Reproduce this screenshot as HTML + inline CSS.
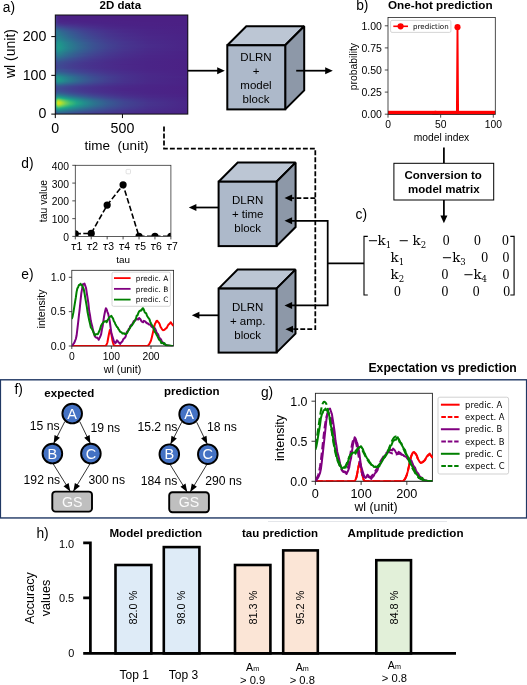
<!DOCTYPE html>
<html lang="en"><head><meta charset="utf-8"><title>DLRN figure</title>
<style>html,body{margin:0;padding:0;background:#fff}svg{display:block}</style></head>
<body>
<svg width="527" height="685" viewBox="0 0 527 685">
<rect width="527" height="685" fill="#fff"/>
<defs>
<linearGradient id="h0" x1="0" x2="1" y1="0" y2="0"><stop offset="0.000" stop-color="#4b1e83"/><stop offset="0.005" stop-color="#453a8f"/><stop offset="0.012" stop-color="#492c8b"/><stop offset="0.022" stop-color="#4a2487"/><stop offset="0.035" stop-color="#4b2185"/><stop offset="0.055" stop-color="#4b2084"/><stop offset="0.080" stop-color="#4b2084"/><stop offset="0.115" stop-color="#4b2084"/><stop offset="0.160" stop-color="#4b2084"/><stop offset="0.215" stop-color="#4b2084"/><stop offset="0.290" stop-color="#4b2084"/><stop offset="0.390" stop-color="#4b2084"/><stop offset="0.520" stop-color="#4b2084"/><stop offset="0.700" stop-color="#4b2084"/><stop offset="1.000" stop-color="#4b2084"/></linearGradient>
<linearGradient id="h1" x1="0" x2="1" y1="0" y2="0"><stop offset="0.000" stop-color="#4b2084"/><stop offset="0.005" stop-color="#443b90"/><stop offset="0.012" stop-color="#492c8a"/><stop offset="0.022" stop-color="#4a2487"/><stop offset="0.035" stop-color="#4b2185"/><stop offset="0.055" stop-color="#4b2084"/><stop offset="0.080" stop-color="#4b2084"/><stop offset="0.115" stop-color="#4b2084"/><stop offset="0.160" stop-color="#4b2084"/><stop offset="0.215" stop-color="#4b2084"/><stop offset="0.290" stop-color="#4b2084"/><stop offset="0.390" stop-color="#4b2084"/><stop offset="0.520" stop-color="#4b2084"/><stop offset="0.700" stop-color="#4b2084"/><stop offset="1.000" stop-color="#4b2084"/></linearGradient>
<linearGradient id="h2" x1="0" x2="1" y1="0" y2="0"><stop offset="0.000" stop-color="#4b2084"/><stop offset="0.005" stop-color="#443d90"/><stop offset="0.012" stop-color="#482d8b"/><stop offset="0.022" stop-color="#4a2587"/><stop offset="0.035" stop-color="#4b2185"/><stop offset="0.055" stop-color="#4b2185"/><stop offset="0.080" stop-color="#4b2185"/><stop offset="0.115" stop-color="#4b2185"/><stop offset="0.160" stop-color="#4b2185"/><stop offset="0.215" stop-color="#4b2084"/><stop offset="0.290" stop-color="#4b2084"/><stop offset="0.390" stop-color="#4b2084"/><stop offset="0.520" stop-color="#4b2084"/><stop offset="0.700" stop-color="#4b2084"/><stop offset="1.000" stop-color="#4b2084"/></linearGradient>
<linearGradient id="h3" x1="0" x2="1" y1="0" y2="0"><stop offset="0.000" stop-color="#4b2084"/><stop offset="0.005" stop-color="#443c90"/><stop offset="0.012" stop-color="#482d8b"/><stop offset="0.022" stop-color="#4a2587"/><stop offset="0.035" stop-color="#4a2286"/><stop offset="0.055" stop-color="#4b2185"/><stop offset="0.080" stop-color="#4b2185"/><stop offset="0.115" stop-color="#4b2185"/><stop offset="0.160" stop-color="#4b2185"/><stop offset="0.215" stop-color="#4b2185"/><stop offset="0.290" stop-color="#4b2185"/><stop offset="0.390" stop-color="#4b2084"/><stop offset="0.520" stop-color="#4b2084"/><stop offset="0.700" stop-color="#4b2084"/><stop offset="1.000" stop-color="#4b2084"/></linearGradient>
<linearGradient id="h4" x1="0" x2="1" y1="0" y2="0"><stop offset="0.000" stop-color="#4b2185"/><stop offset="0.005" stop-color="#443b90"/><stop offset="0.012" stop-color="#482e8c"/><stop offset="0.022" stop-color="#4a2688"/><stop offset="0.035" stop-color="#4a2487"/><stop offset="0.055" stop-color="#4a2286"/><stop offset="0.080" stop-color="#4a2286"/><stop offset="0.115" stop-color="#4b2185"/><stop offset="0.160" stop-color="#4b2185"/><stop offset="0.215" stop-color="#4b2185"/><stop offset="0.290" stop-color="#4b2185"/><stop offset="0.390" stop-color="#4b2185"/><stop offset="0.520" stop-color="#4b2084"/><stop offset="0.700" stop-color="#4b2084"/><stop offset="1.000" stop-color="#4b2084"/></linearGradient>
<linearGradient id="h5" x1="0" x2="1" y1="0" y2="0"><stop offset="0.000" stop-color="#4b2185"/><stop offset="0.005" stop-color="#453a8f"/><stop offset="0.012" stop-color="#482e8c"/><stop offset="0.022" stop-color="#4a2889"/><stop offset="0.035" stop-color="#4a2587"/><stop offset="0.055" stop-color="#4a2487"/><stop offset="0.080" stop-color="#4a2286"/><stop offset="0.115" stop-color="#4a2286"/><stop offset="0.160" stop-color="#4a2286"/><stop offset="0.215" stop-color="#4b2185"/><stop offset="0.290" stop-color="#4b2185"/><stop offset="0.390" stop-color="#4b2185"/><stop offset="0.520" stop-color="#4b2084"/><stop offset="0.700" stop-color="#4b2084"/><stop offset="1.000" stop-color="#4b2084"/></linearGradient>
<linearGradient id="h6" x1="0" x2="1" y1="0" y2="0"><stop offset="0.000" stop-color="#4a2286"/><stop offset="0.005" stop-color="#453a8f"/><stop offset="0.012" stop-color="#48308c"/><stop offset="0.022" stop-color="#492989"/><stop offset="0.035" stop-color="#4a2688"/><stop offset="0.055" stop-color="#4a2587"/><stop offset="0.080" stop-color="#4a2587"/><stop offset="0.115" stop-color="#4a2487"/><stop offset="0.160" stop-color="#4a2487"/><stop offset="0.215" stop-color="#4a2286"/><stop offset="0.290" stop-color="#4a2286"/><stop offset="0.390" stop-color="#4b2185"/><stop offset="0.520" stop-color="#4b2185"/><stop offset="0.700" stop-color="#4b2084"/><stop offset="1.000" stop-color="#4b2084"/></linearGradient>
<linearGradient id="h7" x1="0" x2="1" y1="0" y2="0"><stop offset="0.000" stop-color="#4a2587"/><stop offset="0.005" stop-color="#453a8f"/><stop offset="0.012" stop-color="#47318c"/><stop offset="0.022" stop-color="#492c8a"/><stop offset="0.035" stop-color="#492989"/><stop offset="0.055" stop-color="#4a2889"/><stop offset="0.080" stop-color="#4a2889"/><stop offset="0.115" stop-color="#4a2688"/><stop offset="0.160" stop-color="#4a2587"/><stop offset="0.215" stop-color="#4a2487"/><stop offset="0.290" stop-color="#4a2286"/><stop offset="0.390" stop-color="#4a2286"/><stop offset="0.520" stop-color="#4b2185"/><stop offset="0.700" stop-color="#4b2185"/><stop offset="1.000" stop-color="#4b2084"/></linearGradient>
<linearGradient id="h8" x1="0" x2="1" y1="0" y2="0"><stop offset="0.000" stop-color="#4a2889"/><stop offset="0.005" stop-color="#443c90"/><stop offset="0.012" stop-color="#46368e"/><stop offset="0.022" stop-color="#47318d"/><stop offset="0.035" stop-color="#482e8c"/><stop offset="0.055" stop-color="#492c8a"/><stop offset="0.080" stop-color="#492a8a"/><stop offset="0.115" stop-color="#492989"/><stop offset="0.160" stop-color="#4a2889"/><stop offset="0.215" stop-color="#4a2688"/><stop offset="0.290" stop-color="#4a2487"/><stop offset="0.390" stop-color="#4a2286"/><stop offset="0.520" stop-color="#4b2185"/><stop offset="0.700" stop-color="#4b2185"/><stop offset="1.000" stop-color="#4b2084"/></linearGradient>
<linearGradient id="h9" x1="0" x2="1" y1="0" y2="0"><stop offset="0.000" stop-color="#492c8b"/><stop offset="0.005" stop-color="#424091"/><stop offset="0.012" stop-color="#443b90"/><stop offset="0.022" stop-color="#45378f"/><stop offset="0.035" stop-color="#46358e"/><stop offset="0.055" stop-color="#47328d"/><stop offset="0.080" stop-color="#48308c"/><stop offset="0.115" stop-color="#482e8c"/><stop offset="0.160" stop-color="#492c8b"/><stop offset="0.215" stop-color="#492989"/><stop offset="0.290" stop-color="#4a2688"/><stop offset="0.390" stop-color="#4a2487"/><stop offset="0.520" stop-color="#4a2286"/><stop offset="0.700" stop-color="#4b2185"/><stop offset="1.000" stop-color="#4b2084"/></linearGradient>
<linearGradient id="h10" x1="0" x2="1" y1="0" y2="0"><stop offset="0.000" stop-color="#47318d"/><stop offset="0.005" stop-color="#404591"/><stop offset="0.012" stop-color="#414391"/><stop offset="0.022" stop-color="#433f90"/><stop offset="0.035" stop-color="#443c90"/><stop offset="0.055" stop-color="#45398f"/><stop offset="0.080" stop-color="#46368e"/><stop offset="0.115" stop-color="#47348e"/><stop offset="0.160" stop-color="#48308c"/><stop offset="0.215" stop-color="#492c8a"/><stop offset="0.290" stop-color="#492989"/><stop offset="0.390" stop-color="#4a2587"/><stop offset="0.520" stop-color="#4a2286"/><stop offset="0.700" stop-color="#4b2185"/><stop offset="1.000" stop-color="#4b2084"/></linearGradient>
<linearGradient id="h11" x1="0" x2="1" y1="0" y2="0"><stop offset="0.000" stop-color="#46368e"/><stop offset="0.005" stop-color="#3d4c92"/><stop offset="0.012" stop-color="#3e4b92"/><stop offset="0.022" stop-color="#3f4892"/><stop offset="0.035" stop-color="#414491"/><stop offset="0.055" stop-color="#424191"/><stop offset="0.080" stop-color="#433e90"/><stop offset="0.115" stop-color="#45398f"/><stop offset="0.160" stop-color="#46358e"/><stop offset="0.215" stop-color="#48308c"/><stop offset="0.290" stop-color="#492c8b"/><stop offset="0.390" stop-color="#4a2688"/><stop offset="0.520" stop-color="#4a2487"/><stop offset="0.700" stop-color="#4a2286"/><stop offset="1.000" stop-color="#4b2185"/></linearGradient>
<linearGradient id="h12" x1="0" x2="1" y1="0" y2="0"><stop offset="0.000" stop-color="#443b90"/><stop offset="0.005" stop-color="#3a5392"/><stop offset="0.012" stop-color="#395592"/><stop offset="0.022" stop-color="#3b5192"/><stop offset="0.035" stop-color="#3d4e92"/><stop offset="0.055" stop-color="#3f4992"/><stop offset="0.080" stop-color="#414491"/><stop offset="0.115" stop-color="#433f90"/><stop offset="0.160" stop-color="#453a8f"/><stop offset="0.215" stop-color="#47348d"/><stop offset="0.290" stop-color="#482e8c"/><stop offset="0.390" stop-color="#492989"/><stop offset="0.520" stop-color="#4a2587"/><stop offset="0.700" stop-color="#4a2286"/><stop offset="1.000" stop-color="#4b2185"/></linearGradient>
<linearGradient id="h13" x1="0" x2="1" y1="0" y2="0"><stop offset="0.000" stop-color="#424191"/><stop offset="0.005" stop-color="#365b92"/><stop offset="0.012" stop-color="#355e92"/><stop offset="0.022" stop-color="#375a92"/><stop offset="0.035" stop-color="#395692"/><stop offset="0.055" stop-color="#3b5192"/><stop offset="0.080" stop-color="#3d4c92"/><stop offset="0.115" stop-color="#404591"/><stop offset="0.160" stop-color="#433f90"/><stop offset="0.215" stop-color="#45398f"/><stop offset="0.290" stop-color="#47318d"/><stop offset="0.390" stop-color="#492a8a"/><stop offset="0.520" stop-color="#4a2688"/><stop offset="0.700" stop-color="#4a2286"/><stop offset="1.000" stop-color="#4b2185"/></linearGradient>
<linearGradient id="h14" x1="0" x2="1" y1="0" y2="0"><stop offset="0.000" stop-color="#3f4892"/><stop offset="0.005" stop-color="#336391"/><stop offset="0.012" stop-color="#316691"/><stop offset="0.022" stop-color="#336391"/><stop offset="0.035" stop-color="#355e92"/><stop offset="0.055" stop-color="#375992"/><stop offset="0.080" stop-color="#3a5292"/><stop offset="0.115" stop-color="#3e4b92"/><stop offset="0.160" stop-color="#414491"/><stop offset="0.215" stop-color="#443c90"/><stop offset="0.290" stop-color="#46358e"/><stop offset="0.390" stop-color="#482d8b"/><stop offset="0.520" stop-color="#4a2889"/><stop offset="0.700" stop-color="#4a2487"/><stop offset="1.000" stop-color="#4b2185"/></linearGradient>
<linearGradient id="h15" x1="0" x2="1" y1="0" y2="0"><stop offset="0.000" stop-color="#3d4c92"/><stop offset="0.005" stop-color="#306891"/><stop offset="0.012" stop-color="#2e6e90"/><stop offset="0.022" stop-color="#2f6b90"/><stop offset="0.035" stop-color="#326591"/><stop offset="0.055" stop-color="#346092"/><stop offset="0.080" stop-color="#375992"/><stop offset="0.115" stop-color="#3b5192"/><stop offset="0.160" stop-color="#3f4992"/><stop offset="0.215" stop-color="#424091"/><stop offset="0.290" stop-color="#45378f"/><stop offset="0.390" stop-color="#48308c"/><stop offset="0.520" stop-color="#492989"/><stop offset="0.700" stop-color="#4a2487"/><stop offset="1.000" stop-color="#4b2185"/></linearGradient>
<linearGradient id="h16" x1="0" x2="1" y1="0" y2="0"><stop offset="0.000" stop-color="#3c5092"/><stop offset="0.005" stop-color="#2f6c90"/><stop offset="0.012" stop-color="#2c728f"/><stop offset="0.022" stop-color="#2d7090"/><stop offset="0.035" stop-color="#2f6b90"/><stop offset="0.055" stop-color="#326491"/><stop offset="0.080" stop-color="#355e92"/><stop offset="0.115" stop-color="#395692"/><stop offset="0.160" stop-color="#3d4c92"/><stop offset="0.215" stop-color="#414391"/><stop offset="0.290" stop-color="#453a8f"/><stop offset="0.390" stop-color="#47318d"/><stop offset="0.520" stop-color="#492989"/><stop offset="0.700" stop-color="#4a2587"/><stop offset="1.000" stop-color="#4b2185"/></linearGradient>
<linearGradient id="h17" x1="0" x2="1" y1="0" y2="0"><stop offset="0.000" stop-color="#3a5292"/><stop offset="0.005" stop-color="#2e6d90"/><stop offset="0.012" stop-color="#2b758f"/><stop offset="0.022" stop-color="#2b748f"/><stop offset="0.035" stop-color="#2e6f90"/><stop offset="0.055" stop-color="#306891"/><stop offset="0.080" stop-color="#336291"/><stop offset="0.115" stop-color="#375992"/><stop offset="0.160" stop-color="#3c5092"/><stop offset="0.215" stop-color="#404591"/><stop offset="0.290" stop-color="#443b90"/><stop offset="0.390" stop-color="#47328d"/><stop offset="0.520" stop-color="#492a8a"/><stop offset="0.700" stop-color="#4a2587"/><stop offset="1.000" stop-color="#4b2185"/></linearGradient>
<linearGradient id="h18" x1="0" x2="1" y1="0" y2="0"><stop offset="0.000" stop-color="#395592"/><stop offset="0.005" stop-color="#2f6c90"/><stop offset="0.012" stop-color="#2a778f"/><stop offset="0.022" stop-color="#2b768f"/><stop offset="0.035" stop-color="#2c728f"/><stop offset="0.055" stop-color="#2f6c90"/><stop offset="0.080" stop-color="#326491"/><stop offset="0.115" stop-color="#365b92"/><stop offset="0.160" stop-color="#3a5292"/><stop offset="0.215" stop-color="#3f4892"/><stop offset="0.290" stop-color="#433e90"/><stop offset="0.390" stop-color="#47348d"/><stop offset="0.520" stop-color="#492c8b"/><stop offset="0.700" stop-color="#4a2587"/><stop offset="1.000" stop-color="#4b2185"/></linearGradient>
<linearGradient id="h19" x1="0" x2="1" y1="0" y2="0"><stop offset="0.000" stop-color="#395692"/><stop offset="0.005" stop-color="#306991"/><stop offset="0.012" stop-color="#2a788e"/><stop offset="0.022" stop-color="#2a788e"/><stop offset="0.035" stop-color="#2b758f"/><stop offset="0.055" stop-color="#2e6e90"/><stop offset="0.080" stop-color="#316791"/><stop offset="0.115" stop-color="#355e92"/><stop offset="0.160" stop-color="#395592"/><stop offset="0.215" stop-color="#3e4a92"/><stop offset="0.290" stop-color="#433f90"/><stop offset="0.390" stop-color="#46358e"/><stop offset="0.520" stop-color="#482d8b"/><stop offset="0.700" stop-color="#4a2688"/><stop offset="1.000" stop-color="#4a2286"/></linearGradient>
<linearGradient id="h20" x1="0" x2="1" y1="0" y2="0"><stop offset="0.000" stop-color="#385892"/><stop offset="0.005" stop-color="#316691"/><stop offset="0.012" stop-color="#29798e"/><stop offset="0.022" stop-color="#297b8e"/><stop offset="0.035" stop-color="#2a778e"/><stop offset="0.055" stop-color="#2d718f"/><stop offset="0.080" stop-color="#306a90"/><stop offset="0.115" stop-color="#346191"/><stop offset="0.160" stop-color="#385792"/><stop offset="0.215" stop-color="#3d4c92"/><stop offset="0.290" stop-color="#424191"/><stop offset="0.390" stop-color="#46368e"/><stop offset="0.520" stop-color="#482d8b"/><stop offset="0.700" stop-color="#4a2688"/><stop offset="1.000" stop-color="#4a2286"/></linearGradient>
<linearGradient id="h21" x1="0" x2="1" y1="0" y2="0"><stop offset="0.000" stop-color="#375a92"/><stop offset="0.005" stop-color="#326491"/><stop offset="0.012" stop-color="#297a8e"/><stop offset="0.022" stop-color="#277e8e"/><stop offset="0.035" stop-color="#297b8e"/><stop offset="0.055" stop-color="#2b758f"/><stop offset="0.080" stop-color="#2e6d90"/><stop offset="0.115" stop-color="#326491"/><stop offset="0.160" stop-color="#375992"/><stop offset="0.215" stop-color="#3c4f92"/><stop offset="0.290" stop-color="#414391"/><stop offset="0.390" stop-color="#45378f"/><stop offset="0.520" stop-color="#482e8c"/><stop offset="0.700" stop-color="#4a2889"/><stop offset="1.000" stop-color="#4a2286"/></linearGradient>
<linearGradient id="h22" x1="0" x2="1" y1="0" y2="0"><stop offset="0.000" stop-color="#365c92"/><stop offset="0.005" stop-color="#326491"/><stop offset="0.012" stop-color="#287c8e"/><stop offset="0.022" stop-color="#26818e"/><stop offset="0.035" stop-color="#277e8e"/><stop offset="0.055" stop-color="#2a778e"/><stop offset="0.080" stop-color="#2d7090"/><stop offset="0.115" stop-color="#316691"/><stop offset="0.160" stop-color="#365b92"/><stop offset="0.215" stop-color="#3b5192"/><stop offset="0.290" stop-color="#404591"/><stop offset="0.390" stop-color="#45398f"/><stop offset="0.520" stop-color="#48308c"/><stop offset="0.700" stop-color="#4a2889"/><stop offset="1.000" stop-color="#4a2286"/></linearGradient>
<linearGradient id="h23" x1="0" x2="1" y1="0" y2="0"><stop offset="0.000" stop-color="#355f92"/><stop offset="0.005" stop-color="#326491"/><stop offset="0.012" stop-color="#277e8e"/><stop offset="0.022" stop-color="#25838e"/><stop offset="0.035" stop-color="#26818e"/><stop offset="0.055" stop-color="#297b8e"/><stop offset="0.080" stop-color="#2c738f"/><stop offset="0.115" stop-color="#306991"/><stop offset="0.160" stop-color="#355e92"/><stop offset="0.215" stop-color="#3a5292"/><stop offset="0.290" stop-color="#404691"/><stop offset="0.390" stop-color="#453a8f"/><stop offset="0.520" stop-color="#48308c"/><stop offset="0.700" stop-color="#4a2889"/><stop offset="1.000" stop-color="#4a2286"/></linearGradient>
<linearGradient id="h24" x1="0" x2="1" y1="0" y2="0"><stop offset="0.000" stop-color="#346191"/><stop offset="0.005" stop-color="#326591"/><stop offset="0.012" stop-color="#26818e"/><stop offset="0.022" stop-color="#24878e"/><stop offset="0.035" stop-color="#25848e"/><stop offset="0.055" stop-color="#277e8e"/><stop offset="0.080" stop-color="#2b768f"/><stop offset="0.115" stop-color="#2e6d90"/><stop offset="0.160" stop-color="#346191"/><stop offset="0.215" stop-color="#395692"/><stop offset="0.290" stop-color="#3f4992"/><stop offset="0.390" stop-color="#443c90"/><stop offset="0.520" stop-color="#47318d"/><stop offset="0.700" stop-color="#492989"/><stop offset="1.000" stop-color="#4a2286"/></linearGradient>
<linearGradient id="h25" x1="0" x2="1" y1="0" y2="0"><stop offset="0.000" stop-color="#326491"/><stop offset="0.005" stop-color="#306891"/><stop offset="0.012" stop-color="#25848e"/><stop offset="0.022" stop-color="#228c8d"/><stop offset="0.035" stop-color="#23898e"/><stop offset="0.055" stop-color="#26828e"/><stop offset="0.080" stop-color="#297a8e"/><stop offset="0.115" stop-color="#2d7090"/><stop offset="0.160" stop-color="#326491"/><stop offset="0.215" stop-color="#385892"/><stop offset="0.290" stop-color="#3e4b92"/><stop offset="0.390" stop-color="#433e90"/><stop offset="0.520" stop-color="#47328d"/><stop offset="0.700" stop-color="#492989"/><stop offset="1.000" stop-color="#4a2487"/></linearGradient>
<linearGradient id="h26" x1="0" x2="1" y1="0" y2="0"><stop offset="0.000" stop-color="#316791"/><stop offset="0.005" stop-color="#2f6b90"/><stop offset="0.012" stop-color="#23898e"/><stop offset="0.022" stop-color="#21908d"/><stop offset="0.035" stop-color="#228d8d"/><stop offset="0.055" stop-color="#24868e"/><stop offset="0.080" stop-color="#277e8e"/><stop offset="0.115" stop-color="#2b748f"/><stop offset="0.160" stop-color="#316791"/><stop offset="0.215" stop-color="#375a92"/><stop offset="0.290" stop-color="#3d4c92"/><stop offset="0.390" stop-color="#433f90"/><stop offset="0.520" stop-color="#47348e"/><stop offset="0.700" stop-color="#492a8a"/><stop offset="1.000" stop-color="#4a2487"/></linearGradient>
<linearGradient id="h27" x1="0" x2="1" y1="0" y2="0"><stop offset="0.000" stop-color="#2f6a90"/><stop offset="0.005" stop-color="#2e6e90"/><stop offset="0.012" stop-color="#228d8d"/><stop offset="0.022" stop-color="#1f948c"/><stop offset="0.035" stop-color="#21918c"/><stop offset="0.055" stop-color="#238a8d"/><stop offset="0.080" stop-color="#26828e"/><stop offset="0.115" stop-color="#2a778f"/><stop offset="0.160" stop-color="#2f6a90"/><stop offset="0.215" stop-color="#355e92"/><stop offset="0.290" stop-color="#3c4f92"/><stop offset="0.390" stop-color="#424091"/><stop offset="0.520" stop-color="#46358e"/><stop offset="0.700" stop-color="#492a8a"/><stop offset="1.000" stop-color="#4a2487"/></linearGradient>
<linearGradient id="h28" x1="0" x2="1" y1="0" y2="0"><stop offset="0.000" stop-color="#2f6c90"/><stop offset="0.005" stop-color="#2d7090"/><stop offset="0.012" stop-color="#218f8d"/><stop offset="0.022" stop-color="#1f968b"/><stop offset="0.035" stop-color="#20938c"/><stop offset="0.055" stop-color="#228c8d"/><stop offset="0.080" stop-color="#25838e"/><stop offset="0.115" stop-color="#29798e"/><stop offset="0.160" stop-color="#2f6c90"/><stop offset="0.215" stop-color="#355f92"/><stop offset="0.290" stop-color="#3c5092"/><stop offset="0.390" stop-color="#424191"/><stop offset="0.520" stop-color="#46358e"/><stop offset="0.700" stop-color="#492a8a"/><stop offset="1.000" stop-color="#4a2487"/></linearGradient>
<linearGradient id="h29" x1="0" x2="1" y1="0" y2="0"><stop offset="0.000" stop-color="#2e6e90"/><stop offset="0.005" stop-color="#2d718f"/><stop offset="0.012" stop-color="#21918c"/><stop offset="0.022" stop-color="#1f988b"/><stop offset="0.035" stop-color="#1f958b"/><stop offset="0.055" stop-color="#218e8d"/><stop offset="0.080" stop-color="#25858e"/><stop offset="0.115" stop-color="#297a8e"/><stop offset="0.160" stop-color="#2e6e90"/><stop offset="0.215" stop-color="#346091"/><stop offset="0.290" stop-color="#3b5192"/><stop offset="0.390" stop-color="#414391"/><stop offset="0.520" stop-color="#46358e"/><stop offset="0.700" stop-color="#492c8b"/><stop offset="1.000" stop-color="#4a2487"/></linearGradient>
<linearGradient id="h30" x1="0" x2="1" y1="0" y2="0"><stop offset="0.000" stop-color="#2e6e90"/><stop offset="0.005" stop-color="#2c728f"/><stop offset="0.012" stop-color="#20928c"/><stop offset="0.022" stop-color="#1f998a"/><stop offset="0.035" stop-color="#1f968b"/><stop offset="0.055" stop-color="#218f8d"/><stop offset="0.080" stop-color="#25858e"/><stop offset="0.115" stop-color="#297b8e"/><stop offset="0.160" stop-color="#2e6e90"/><stop offset="0.215" stop-color="#346091"/><stop offset="0.290" stop-color="#3b5192"/><stop offset="0.390" stop-color="#414391"/><stop offset="0.520" stop-color="#46368e"/><stop offset="0.700" stop-color="#492c8b"/><stop offset="1.000" stop-color="#4a2487"/></linearGradient>
<linearGradient id="h31" x1="0" x2="1" y1="0" y2="0"><stop offset="0.000" stop-color="#2e6f90"/><stop offset="0.005" stop-color="#2c728f"/><stop offset="0.012" stop-color="#20928c"/><stop offset="0.022" stop-color="#1f9a8a"/><stop offset="0.035" stop-color="#1f978b"/><stop offset="0.055" stop-color="#21908d"/><stop offset="0.080" stop-color="#24868e"/><stop offset="0.115" stop-color="#297b8e"/><stop offset="0.160" stop-color="#2e6f90"/><stop offset="0.215" stop-color="#346191"/><stop offset="0.290" stop-color="#3b5192"/><stop offset="0.390" stop-color="#414391"/><stop offset="0.520" stop-color="#46368e"/><stop offset="0.700" stop-color="#492c8b"/><stop offset="1.000" stop-color="#4a2487"/></linearGradient>
<linearGradient id="h32" x1="0" x2="1" y1="0" y2="0"><stop offset="0.000" stop-color="#2e6f90"/><stop offset="0.005" stop-color="#2c738f"/><stop offset="0.012" stop-color="#20938c"/><stop offset="0.022" stop-color="#1e9b8a"/><stop offset="0.035" stop-color="#1f988b"/><stop offset="0.055" stop-color="#21908d"/><stop offset="0.080" stop-color="#24878e"/><stop offset="0.115" stop-color="#287c8e"/><stop offset="0.160" stop-color="#2e6f90"/><stop offset="0.215" stop-color="#346191"/><stop offset="0.290" stop-color="#3b5192"/><stop offset="0.390" stop-color="#414391"/><stop offset="0.520" stop-color="#46358e"/><stop offset="0.700" stop-color="#492c8b"/><stop offset="1.000" stop-color="#4a2487"/></linearGradient>
<linearGradient id="h33" x1="0" x2="1" y1="0" y2="0"><stop offset="0.000" stop-color="#2e6f90"/><stop offset="0.005" stop-color="#2c728f"/><stop offset="0.012" stop-color="#20928c"/><stop offset="0.022" stop-color="#1f9a8a"/><stop offset="0.035" stop-color="#1f978b"/><stop offset="0.055" stop-color="#21908d"/><stop offset="0.080" stop-color="#24868e"/><stop offset="0.115" stop-color="#297b8e"/><stop offset="0.160" stop-color="#2e6e90"/><stop offset="0.215" stop-color="#346091"/><stop offset="0.290" stop-color="#3b5192"/><stop offset="0.390" stop-color="#424291"/><stop offset="0.520" stop-color="#46358e"/><stop offset="0.700" stop-color="#492a8a"/><stop offset="1.000" stop-color="#4a2487"/></linearGradient>
<linearGradient id="h34" x1="0" x2="1" y1="0" y2="0"><stop offset="0.000" stop-color="#2e6d90"/><stop offset="0.005" stop-color="#2d7090"/><stop offset="0.012" stop-color="#21908d"/><stop offset="0.022" stop-color="#1f978b"/><stop offset="0.035" stop-color="#1f948c"/><stop offset="0.055" stop-color="#228d8d"/><stop offset="0.080" stop-color="#25838e"/><stop offset="0.115" stop-color="#29798e"/><stop offset="0.160" stop-color="#2f6c90"/><stop offset="0.215" stop-color="#355e92"/><stop offset="0.290" stop-color="#3c4f92"/><stop offset="0.390" stop-color="#424091"/><stop offset="0.520" stop-color="#47348d"/><stop offset="0.700" stop-color="#492a8a"/><stop offset="1.000" stop-color="#4a2487"/></linearGradient>
<linearGradient id="h35" x1="0" x2="1" y1="0" y2="0"><stop offset="0.000" stop-color="#306a90"/><stop offset="0.005" stop-color="#2e6e90"/><stop offset="0.012" stop-color="#228c8d"/><stop offset="0.022" stop-color="#20938c"/><stop offset="0.035" stop-color="#21918c"/><stop offset="0.055" stop-color="#23898e"/><stop offset="0.080" stop-color="#26818e"/><stop offset="0.115" stop-color="#2b758f"/><stop offset="0.160" stop-color="#306891"/><stop offset="0.215" stop-color="#365b92"/><stop offset="0.290" stop-color="#3d4e92"/><stop offset="0.390" stop-color="#433f90"/><stop offset="0.520" stop-color="#47348e"/><stop offset="0.700" stop-color="#492a8a"/><stop offset="1.000" stop-color="#4a2487"/></linearGradient>
<linearGradient id="h36" x1="0" x2="1" y1="0" y2="0"><stop offset="0.000" stop-color="#316691"/><stop offset="0.005" stop-color="#2f6a90"/><stop offset="0.012" stop-color="#24878e"/><stop offset="0.022" stop-color="#218f8d"/><stop offset="0.035" stop-color="#228c8d"/><stop offset="0.055" stop-color="#25848e"/><stop offset="0.080" stop-color="#287c8e"/><stop offset="0.115" stop-color="#2c728f"/><stop offset="0.160" stop-color="#326591"/><stop offset="0.215" stop-color="#375992"/><stop offset="0.290" stop-color="#3e4b92"/><stop offset="0.390" stop-color="#433e90"/><stop offset="0.520" stop-color="#47328d"/><stop offset="0.700" stop-color="#492989"/><stop offset="1.000" stop-color="#4a2286"/></linearGradient>
<linearGradient id="h37" x1="0" x2="1" y1="0" y2="0"><stop offset="0.000" stop-color="#336391"/><stop offset="0.005" stop-color="#316691"/><stop offset="0.012" stop-color="#26828e"/><stop offset="0.022" stop-color="#23898e"/><stop offset="0.035" stop-color="#24868e"/><stop offset="0.055" stop-color="#27808e"/><stop offset="0.080" stop-color="#2a778e"/><stop offset="0.115" stop-color="#2e6d90"/><stop offset="0.160" stop-color="#346191"/><stop offset="0.215" stop-color="#395692"/><stop offset="0.290" stop-color="#3f4992"/><stop offset="0.390" stop-color="#443b90"/><stop offset="0.520" stop-color="#47318d"/><stop offset="0.700" stop-color="#492989"/><stop offset="1.000" stop-color="#4a2286"/></linearGradient>
<linearGradient id="h38" x1="0" x2="1" y1="0" y2="0"><stop offset="0.000" stop-color="#346092"/><stop offset="0.005" stop-color="#336391"/><stop offset="0.012" stop-color="#277e8e"/><stop offset="0.022" stop-color="#25838e"/><stop offset="0.035" stop-color="#26828e"/><stop offset="0.055" stop-color="#297b8e"/><stop offset="0.080" stop-color="#2c738f"/><stop offset="0.115" stop-color="#306991"/><stop offset="0.160" stop-color="#355e92"/><stop offset="0.215" stop-color="#3a5292"/><stop offset="0.290" stop-color="#404692"/><stop offset="0.390" stop-color="#453a8f"/><stop offset="0.520" stop-color="#48308c"/><stop offset="0.700" stop-color="#4a2889"/><stop offset="1.000" stop-color="#4a2286"/></linearGradient>
<linearGradient id="h39" x1="0" x2="1" y1="0" y2="0"><stop offset="0.000" stop-color="#365c92"/><stop offset="0.005" stop-color="#355f92"/><stop offset="0.012" stop-color="#29798e"/><stop offset="0.022" stop-color="#277f8e"/><stop offset="0.035" stop-color="#287d8e"/><stop offset="0.055" stop-color="#2a778f"/><stop offset="0.080" stop-color="#2e6f90"/><stop offset="0.115" stop-color="#326591"/><stop offset="0.160" stop-color="#375a92"/><stop offset="0.215" stop-color="#3c5092"/><stop offset="0.290" stop-color="#414491"/><stop offset="0.390" stop-color="#45398f"/><stop offset="0.520" stop-color="#482e8c"/><stop offset="0.700" stop-color="#4a2889"/><stop offset="1.000" stop-color="#4a2286"/></linearGradient>
<linearGradient id="h40" x1="0" x2="1" y1="0" y2="0"><stop offset="0.000" stop-color="#375992"/><stop offset="0.005" stop-color="#365b92"/><stop offset="0.012" stop-color="#2b758f"/><stop offset="0.022" stop-color="#297b8e"/><stop offset="0.035" stop-color="#2a788e"/><stop offset="0.055" stop-color="#2c728f"/><stop offset="0.080" stop-color="#2f6b90"/><stop offset="0.115" stop-color="#336291"/><stop offset="0.160" stop-color="#385892"/><stop offset="0.215" stop-color="#3d4e92"/><stop offset="0.290" stop-color="#424291"/><stop offset="0.390" stop-color="#45378f"/><stop offset="0.520" stop-color="#482e8c"/><stop offset="0.700" stop-color="#4a2688"/><stop offset="1.000" stop-color="#4a2286"/></linearGradient>
<linearGradient id="h41" x1="0" x2="1" y1="0" y2="0"><stop offset="0.000" stop-color="#395692"/><stop offset="0.005" stop-color="#385892"/><stop offset="0.012" stop-color="#2d7090"/><stop offset="0.022" stop-color="#2b758f"/><stop offset="0.035" stop-color="#2c738f"/><stop offset="0.055" stop-color="#2e6d90"/><stop offset="0.080" stop-color="#316691"/><stop offset="0.115" stop-color="#355e92"/><stop offset="0.160" stop-color="#395592"/><stop offset="0.215" stop-color="#3e4a92"/><stop offset="0.290" stop-color="#433f90"/><stop offset="0.390" stop-color="#46358e"/><stop offset="0.520" stop-color="#482d8b"/><stop offset="0.700" stop-color="#4a2688"/><stop offset="1.000" stop-color="#4a2286"/></linearGradient>
<linearGradient id="h42" x1="0" x2="1" y1="0" y2="0"><stop offset="0.000" stop-color="#3b5192"/><stop offset="0.005" stop-color="#3a5392"/><stop offset="0.012" stop-color="#306990"/><stop offset="0.022" stop-color="#2e6f90"/><stop offset="0.035" stop-color="#2e6d90"/><stop offset="0.055" stop-color="#316791"/><stop offset="0.080" stop-color="#346191"/><stop offset="0.115" stop-color="#375992"/><stop offset="0.160" stop-color="#3c5092"/><stop offset="0.215" stop-color="#404691"/><stop offset="0.290" stop-color="#443d90"/><stop offset="0.390" stop-color="#47348d"/><stop offset="0.520" stop-color="#492c8a"/><stop offset="0.700" stop-color="#4a2688"/><stop offset="1.000" stop-color="#4a2286"/></linearGradient>
<linearGradient id="h43" x1="0" x2="1" y1="0" y2="0"><stop offset="0.000" stop-color="#3d4c92"/><stop offset="0.005" stop-color="#3c4f92"/><stop offset="0.012" stop-color="#336391"/><stop offset="0.022" stop-color="#306891"/><stop offset="0.035" stop-color="#316691"/><stop offset="0.055" stop-color="#346191"/><stop offset="0.080" stop-color="#365b92"/><stop offset="0.115" stop-color="#3a5392"/><stop offset="0.160" stop-color="#3e4b92"/><stop offset="0.215" stop-color="#414391"/><stop offset="0.290" stop-color="#453a8f"/><stop offset="0.390" stop-color="#47328d"/><stop offset="0.520" stop-color="#492a8a"/><stop offset="0.700" stop-color="#4a2587"/><stop offset="1.000" stop-color="#4a2286"/></linearGradient>
<linearGradient id="h44" x1="0" x2="1" y1="0" y2="0"><stop offset="0.000" stop-color="#3f4992"/><stop offset="0.005" stop-color="#3e4b92"/><stop offset="0.012" stop-color="#355e92"/><stop offset="0.022" stop-color="#336291"/><stop offset="0.035" stop-color="#346091"/><stop offset="0.055" stop-color="#365b92"/><stop offset="0.080" stop-color="#395692"/><stop offset="0.115" stop-color="#3c4f92"/><stop offset="0.160" stop-color="#3f4892"/><stop offset="0.215" stop-color="#424091"/><stop offset="0.290" stop-color="#45378f"/><stop offset="0.390" stop-color="#48308c"/><stop offset="0.520" stop-color="#492989"/><stop offset="0.700" stop-color="#4a2587"/><stop offset="1.000" stop-color="#4b2185"/></linearGradient>
<linearGradient id="h45" x1="0" x2="1" y1="0" y2="0"><stop offset="0.000" stop-color="#414491"/><stop offset="0.005" stop-color="#404691"/><stop offset="0.012" stop-color="#385892"/><stop offset="0.022" stop-color="#365b92"/><stop offset="0.035" stop-color="#375a92"/><stop offset="0.055" stop-color="#395692"/><stop offset="0.080" stop-color="#3b5192"/><stop offset="0.115" stop-color="#3e4b92"/><stop offset="0.160" stop-color="#414491"/><stop offset="0.215" stop-color="#443d90"/><stop offset="0.290" stop-color="#46358e"/><stop offset="0.390" stop-color="#482e8c"/><stop offset="0.520" stop-color="#492989"/><stop offset="0.700" stop-color="#4a2587"/><stop offset="1.000" stop-color="#4b2185"/></linearGradient>
<linearGradient id="h46" x1="0" x2="1" y1="0" y2="0"><stop offset="0.000" stop-color="#424091"/><stop offset="0.005" stop-color="#414391"/><stop offset="0.012" stop-color="#3b5192"/><stop offset="0.022" stop-color="#395592"/><stop offset="0.035" stop-color="#3a5392"/><stop offset="0.055" stop-color="#3c5092"/><stop offset="0.080" stop-color="#3e4b92"/><stop offset="0.115" stop-color="#404692"/><stop offset="0.160" stop-color="#424091"/><stop offset="0.215" stop-color="#453a8f"/><stop offset="0.290" stop-color="#47348e"/><stop offset="0.390" stop-color="#482d8b"/><stop offset="0.520" stop-color="#4a2889"/><stop offset="0.700" stop-color="#4a2487"/><stop offset="1.000" stop-color="#4b2185"/></linearGradient>
<linearGradient id="h47" x1="0" x2="1" y1="0" y2="0"><stop offset="0.000" stop-color="#443d90"/><stop offset="0.005" stop-color="#433f90"/><stop offset="0.012" stop-color="#3d4e92"/><stop offset="0.022" stop-color="#3c5092"/><stop offset="0.035" stop-color="#3c4f92"/><stop offset="0.055" stop-color="#3e4b92"/><stop offset="0.080" stop-color="#3f4892"/><stop offset="0.115" stop-color="#414391"/><stop offset="0.160" stop-color="#433e90"/><stop offset="0.215" stop-color="#45378f"/><stop offset="0.290" stop-color="#47328d"/><stop offset="0.390" stop-color="#492c8a"/><stop offset="0.520" stop-color="#4a2889"/><stop offset="0.700" stop-color="#4a2487"/><stop offset="1.000" stop-color="#4b2185"/></linearGradient>
<linearGradient id="h48" x1="0" x2="1" y1="0" y2="0"><stop offset="0.000" stop-color="#443b90"/><stop offset="0.005" stop-color="#433e90"/><stop offset="0.012" stop-color="#3e4a92"/><stop offset="0.022" stop-color="#3d4e92"/><stop offset="0.035" stop-color="#3d4c92"/><stop offset="0.055" stop-color="#3e4a92"/><stop offset="0.080" stop-color="#404591"/><stop offset="0.115" stop-color="#424191"/><stop offset="0.160" stop-color="#443b90"/><stop offset="0.215" stop-color="#46368e"/><stop offset="0.290" stop-color="#47318d"/><stop offset="0.390" stop-color="#492c8b"/><stop offset="0.520" stop-color="#4a2889"/><stop offset="0.700" stop-color="#4a2487"/><stop offset="1.000" stop-color="#4b2185"/></linearGradient>
<linearGradient id="h49" x1="0" x2="1" y1="0" y2="0"><stop offset="0.000" stop-color="#453a8f"/><stop offset="0.005" stop-color="#443b90"/><stop offset="0.012" stop-color="#3f4992"/><stop offset="0.022" stop-color="#3e4b92"/><stop offset="0.035" stop-color="#3e4a92"/><stop offset="0.055" stop-color="#3f4892"/><stop offset="0.080" stop-color="#414491"/><stop offset="0.115" stop-color="#433f90"/><stop offset="0.160" stop-color="#443b90"/><stop offset="0.215" stop-color="#46368e"/><stop offset="0.290" stop-color="#47318d"/><stop offset="0.390" stop-color="#492c8b"/><stop offset="0.520" stop-color="#4a2688"/><stop offset="0.700" stop-color="#4a2487"/><stop offset="1.000" stop-color="#4b2185"/></linearGradient>
<linearGradient id="h50" x1="0" x2="1" y1="0" y2="0"><stop offset="0.000" stop-color="#45398f"/><stop offset="0.005" stop-color="#453a8f"/><stop offset="0.012" stop-color="#404691"/><stop offset="0.022" stop-color="#3e4a92"/><stop offset="0.035" stop-color="#3f4992"/><stop offset="0.055" stop-color="#404692"/><stop offset="0.080" stop-color="#414391"/><stop offset="0.115" stop-color="#433f90"/><stop offset="0.160" stop-color="#453a8f"/><stop offset="0.215" stop-color="#46358e"/><stop offset="0.290" stop-color="#48308c"/><stop offset="0.390" stop-color="#492c8b"/><stop offset="0.520" stop-color="#4a2889"/><stop offset="0.700" stop-color="#4a2487"/><stop offset="1.000" stop-color="#4b2185"/></linearGradient>
<linearGradient id="h51" x1="0" x2="1" y1="0" y2="0"><stop offset="0.000" stop-color="#45398f"/><stop offset="0.005" stop-color="#453a8f"/><stop offset="0.012" stop-color="#404692"/><stop offset="0.022" stop-color="#3e4a92"/><stop offset="0.035" stop-color="#3f4992"/><stop offset="0.055" stop-color="#404692"/><stop offset="0.080" stop-color="#414391"/><stop offset="0.115" stop-color="#433f90"/><stop offset="0.160" stop-color="#453a8f"/><stop offset="0.215" stop-color="#46368e"/><stop offset="0.290" stop-color="#47318d"/><stop offset="0.390" stop-color="#492c8b"/><stop offset="0.520" stop-color="#4a2889"/><stop offset="0.700" stop-color="#4a2487"/><stop offset="1.000" stop-color="#4b2185"/></linearGradient>
<linearGradient id="h52" x1="0" x2="1" y1="0" y2="0"><stop offset="0.000" stop-color="#45398f"/><stop offset="0.005" stop-color="#453a8f"/><stop offset="0.012" stop-color="#404691"/><stop offset="0.022" stop-color="#3e4a92"/><stop offset="0.035" stop-color="#3f4992"/><stop offset="0.055" stop-color="#404692"/><stop offset="0.080" stop-color="#414391"/><stop offset="0.115" stop-color="#433f90"/><stop offset="0.160" stop-color="#443b90"/><stop offset="0.215" stop-color="#46368e"/><stop offset="0.290" stop-color="#47318d"/><stop offset="0.390" stop-color="#492c8a"/><stop offset="0.520" stop-color="#4a2889"/><stop offset="0.700" stop-color="#4a2487"/><stop offset="1.000" stop-color="#4b2185"/></linearGradient>
<linearGradient id="h53" x1="0" x2="1" y1="0" y2="0"><stop offset="0.000" stop-color="#453a8f"/><stop offset="0.005" stop-color="#443c90"/><stop offset="0.012" stop-color="#3f4992"/><stop offset="0.022" stop-color="#3d4c92"/><stop offset="0.035" stop-color="#3e4b92"/><stop offset="0.055" stop-color="#3f4992"/><stop offset="0.080" stop-color="#404591"/><stop offset="0.115" stop-color="#424191"/><stop offset="0.160" stop-color="#443c90"/><stop offset="0.215" stop-color="#45378f"/><stop offset="0.290" stop-color="#47328d"/><stop offset="0.390" stop-color="#482d8b"/><stop offset="0.520" stop-color="#4a2889"/><stop offset="0.700" stop-color="#4a2487"/><stop offset="1.000" stop-color="#4b2185"/></linearGradient>
<linearGradient id="h54" x1="0" x2="1" y1="0" y2="0"><stop offset="0.000" stop-color="#433f91"/><stop offset="0.005" stop-color="#424091"/><stop offset="0.012" stop-color="#3c5092"/><stop offset="0.022" stop-color="#3a5392"/><stop offset="0.035" stop-color="#3a5292"/><stop offset="0.055" stop-color="#3c4f92"/><stop offset="0.080" stop-color="#3e4b92"/><stop offset="0.115" stop-color="#404692"/><stop offset="0.160" stop-color="#424091"/><stop offset="0.215" stop-color="#443b90"/><stop offset="0.290" stop-color="#46358e"/><stop offset="0.390" stop-color="#482e8c"/><stop offset="0.520" stop-color="#492989"/><stop offset="0.700" stop-color="#4a2587"/><stop offset="1.000" stop-color="#4b2185"/></linearGradient>
<linearGradient id="h55" x1="0" x2="1" y1="0" y2="0"><stop offset="0.000" stop-color="#424191"/><stop offset="0.005" stop-color="#414391"/><stop offset="0.012" stop-color="#3a5392"/><stop offset="0.022" stop-color="#385792"/><stop offset="0.035" stop-color="#395692"/><stop offset="0.055" stop-color="#3a5292"/><stop offset="0.080" stop-color="#3c4f92"/><stop offset="0.115" stop-color="#3f4992"/><stop offset="0.160" stop-color="#414391"/><stop offset="0.215" stop-color="#433e90"/><stop offset="0.290" stop-color="#46368e"/><stop offset="0.390" stop-color="#48308c"/><stop offset="0.520" stop-color="#492a8a"/><stop offset="0.700" stop-color="#4a2587"/><stop offset="1.000" stop-color="#4a2286"/></linearGradient>
<linearGradient id="h56" x1="0" x2="1" y1="0" y2="0"><stop offset="0.000" stop-color="#424091"/><stop offset="0.005" stop-color="#414391"/><stop offset="0.012" stop-color="#3a5392"/><stop offset="0.022" stop-color="#385792"/><stop offset="0.035" stop-color="#395692"/><stop offset="0.055" stop-color="#3a5292"/><stop offset="0.080" stop-color="#3c4f92"/><stop offset="0.115" stop-color="#3e4a92"/><stop offset="0.160" stop-color="#414491"/><stop offset="0.215" stop-color="#433e90"/><stop offset="0.290" stop-color="#45378f"/><stop offset="0.390" stop-color="#47318d"/><stop offset="0.520" stop-color="#492a8a"/><stop offset="0.700" stop-color="#4a2587"/><stop offset="1.000" stop-color="#4a2286"/></linearGradient>
<linearGradient id="h57" x1="0" x2="1" y1="0" y2="0"><stop offset="0.000" stop-color="#414391"/><stop offset="0.005" stop-color="#404591"/><stop offset="0.012" stop-color="#385792"/><stop offset="0.022" stop-color="#365b92"/><stop offset="0.035" stop-color="#375992"/><stop offset="0.055" stop-color="#395692"/><stop offset="0.080" stop-color="#3a5292"/><stop offset="0.115" stop-color="#3d4c92"/><stop offset="0.160" stop-color="#404692"/><stop offset="0.215" stop-color="#424091"/><stop offset="0.290" stop-color="#45398f"/><stop offset="0.390" stop-color="#47328d"/><stop offset="0.520" stop-color="#492c8b"/><stop offset="0.700" stop-color="#4a2688"/><stop offset="1.000" stop-color="#4a2286"/></linearGradient>
<linearGradient id="h58" x1="0" x2="1" y1="0" y2="0"><stop offset="0.000" stop-color="#3f4992"/><stop offset="0.005" stop-color="#3e4b92"/><stop offset="0.012" stop-color="#355f92"/><stop offset="0.022" stop-color="#336391"/><stop offset="0.035" stop-color="#336291"/><stop offset="0.055" stop-color="#355e92"/><stop offset="0.080" stop-color="#375992"/><stop offset="0.115" stop-color="#3a5292"/><stop offset="0.160" stop-color="#3e4b92"/><stop offset="0.215" stop-color="#414491"/><stop offset="0.290" stop-color="#443c90"/><stop offset="0.390" stop-color="#47348d"/><stop offset="0.520" stop-color="#482d8b"/><stop offset="0.700" stop-color="#4a2688"/><stop offset="1.000" stop-color="#4a2286"/></linearGradient>
<linearGradient id="h59" x1="0" x2="1" y1="0" y2="0"><stop offset="0.000" stop-color="#3c4f92"/><stop offset="0.005" stop-color="#395592"/><stop offset="0.012" stop-color="#306891"/><stop offset="0.022" stop-color="#2e6d90"/><stop offset="0.035" stop-color="#2f6b90"/><stop offset="0.055" stop-color="#316691"/><stop offset="0.080" stop-color="#346192"/><stop offset="0.115" stop-color="#375992"/><stop offset="0.160" stop-color="#3b5192"/><stop offset="0.215" stop-color="#3f4992"/><stop offset="0.290" stop-color="#424091"/><stop offset="0.390" stop-color="#46368e"/><stop offset="0.520" stop-color="#482e8c"/><stop offset="0.700" stop-color="#4a2889"/><stop offset="1.000" stop-color="#4a2286"/></linearGradient>
<linearGradient id="h60" x1="0" x2="1" y1="0" y2="0"><stop offset="0.000" stop-color="#395692"/><stop offset="0.005" stop-color="#336291"/><stop offset="0.012" stop-color="#2b758f"/><stop offset="0.022" stop-color="#2a788e"/><stop offset="0.035" stop-color="#2b758f"/><stop offset="0.055" stop-color="#2d7090"/><stop offset="0.080" stop-color="#306991"/><stop offset="0.115" stop-color="#346191"/><stop offset="0.160" stop-color="#385892"/><stop offset="0.215" stop-color="#3c4f92"/><stop offset="0.290" stop-color="#414491"/><stop offset="0.390" stop-color="#45398f"/><stop offset="0.520" stop-color="#48308c"/><stop offset="0.700" stop-color="#4a2889"/><stop offset="1.000" stop-color="#4a2286"/></linearGradient>
<linearGradient id="h61" x1="0" x2="1" y1="0" y2="0"><stop offset="0.000" stop-color="#365c92"/><stop offset="0.005" stop-color="#2e6f90"/><stop offset="0.012" stop-color="#26818e"/><stop offset="0.022" stop-color="#26828e"/><stop offset="0.035" stop-color="#277f8e"/><stop offset="0.055" stop-color="#29798e"/><stop offset="0.080" stop-color="#2c728f"/><stop offset="0.115" stop-color="#306891"/><stop offset="0.160" stop-color="#355e92"/><stop offset="0.215" stop-color="#3a5392"/><stop offset="0.290" stop-color="#404691"/><stop offset="0.390" stop-color="#443b90"/><stop offset="0.520" stop-color="#47318d"/><stop offset="0.700" stop-color="#492989"/><stop offset="1.000" stop-color="#4a2286"/></linearGradient>
<linearGradient id="h62" x1="0" x2="1" y1="0" y2="0"><stop offset="0.000" stop-color="#326491"/><stop offset="0.005" stop-color="#2a778e"/><stop offset="0.012" stop-color="#228b8d"/><stop offset="0.022" stop-color="#228d8d"/><stop offset="0.035" stop-color="#23898e"/><stop offset="0.055" stop-color="#26828e"/><stop offset="0.080" stop-color="#297a8e"/><stop offset="0.115" stop-color="#2d7090"/><stop offset="0.160" stop-color="#326491"/><stop offset="0.215" stop-color="#385892"/><stop offset="0.290" stop-color="#3e4a92"/><stop offset="0.390" stop-color="#433e90"/><stop offset="0.520" stop-color="#47328d"/><stop offset="0.700" stop-color="#492989"/><stop offset="1.000" stop-color="#4a2487"/></linearGradient>
<linearGradient id="h63" x1="0" x2="1" y1="0" y2="0"><stop offset="0.000" stop-color="#306a90"/><stop offset="0.005" stop-color="#2a788e"/><stop offset="0.012" stop-color="#21918c"/><stop offset="0.022" stop-color="#1f948c"/><stop offset="0.035" stop-color="#21918c"/><stop offset="0.055" stop-color="#23898e"/><stop offset="0.080" stop-color="#27808e"/><stop offset="0.115" stop-color="#2b758f"/><stop offset="0.160" stop-color="#306891"/><stop offset="0.215" stop-color="#365b92"/><stop offset="0.290" stop-color="#3d4c92"/><stop offset="0.390" stop-color="#433f91"/><stop offset="0.520" stop-color="#47328d"/><stop offset="0.700" stop-color="#492989"/><stop offset="1.000" stop-color="#4a2487"/></linearGradient>
<linearGradient id="h64" x1="0" x2="1" y1="0" y2="0"><stop offset="0.000" stop-color="#2e6d90"/><stop offset="0.005" stop-color="#2b768f"/><stop offset="0.012" stop-color="#20928c"/><stop offset="0.022" stop-color="#1f988b"/><stop offset="0.035" stop-color="#1f948c"/><stop offset="0.055" stop-color="#228c8d"/><stop offset="0.080" stop-color="#25838e"/><stop offset="0.115" stop-color="#2a788e"/><stop offset="0.160" stop-color="#2f6a90"/><stop offset="0.215" stop-color="#365c92"/><stop offset="0.290" stop-color="#3d4e92"/><stop offset="0.390" stop-color="#433f90"/><stop offset="0.520" stop-color="#47328d"/><stop offset="0.700" stop-color="#492989"/><stop offset="1.000" stop-color="#4a2286"/></linearGradient>
<linearGradient id="h65" x1="0" x2="1" y1="0" y2="0"><stop offset="0.000" stop-color="#2e6f90"/><stop offset="0.005" stop-color="#2b758f"/><stop offset="0.012" stop-color="#20938c"/><stop offset="0.022" stop-color="#1e9b8a"/><stop offset="0.035" stop-color="#1f978b"/><stop offset="0.055" stop-color="#218f8d"/><stop offset="0.080" stop-color="#25858e"/><stop offset="0.115" stop-color="#29798e"/><stop offset="0.160" stop-color="#2f6c90"/><stop offset="0.215" stop-color="#355e92"/><stop offset="0.290" stop-color="#3d4e92"/><stop offset="0.390" stop-color="#433f90"/><stop offset="0.520" stop-color="#47328d"/><stop offset="0.700" stop-color="#492989"/><stop offset="1.000" stop-color="#4a2286"/></linearGradient>
<linearGradient id="h66" x1="0" x2="1" y1="0" y2="0"><stop offset="0.000" stop-color="#2e6e90"/><stop offset="0.005" stop-color="#2c728f"/><stop offset="0.012" stop-color="#20928c"/><stop offset="0.022" stop-color="#1f998a"/><stop offset="0.035" stop-color="#1f958b"/><stop offset="0.055" stop-color="#218e8d"/><stop offset="0.080" stop-color="#25848e"/><stop offset="0.115" stop-color="#2a788e"/><stop offset="0.160" stop-color="#2f6b90"/><stop offset="0.215" stop-color="#365c92"/><stop offset="0.290" stop-color="#3d4e92"/><stop offset="0.390" stop-color="#433f91"/><stop offset="0.520" stop-color="#47328d"/><stop offset="0.700" stop-color="#492989"/><stop offset="1.000" stop-color="#4a2286"/></linearGradient>
<linearGradient id="h67" x1="0" x2="1" y1="0" y2="0"><stop offset="0.000" stop-color="#2f6b90"/><stop offset="0.005" stop-color="#2e6e90"/><stop offset="0.012" stop-color="#228d8d"/><stop offset="0.022" stop-color="#1f948c"/><stop offset="0.035" stop-color="#21918c"/><stop offset="0.055" stop-color="#23898e"/><stop offset="0.080" stop-color="#27808e"/><stop offset="0.115" stop-color="#2b758f"/><stop offset="0.160" stop-color="#316791"/><stop offset="0.215" stop-color="#375a92"/><stop offset="0.290" stop-color="#3e4b92"/><stop offset="0.390" stop-color="#433e90"/><stop offset="0.520" stop-color="#47318c"/><stop offset="0.700" stop-color="#492989"/><stop offset="1.000" stop-color="#4a2286"/></linearGradient>
<linearGradient id="h68" x1="0" x2="1" y1="0" y2="0"><stop offset="0.000" stop-color="#336391"/><stop offset="0.005" stop-color="#316691"/><stop offset="0.012" stop-color="#26828e"/><stop offset="0.022" stop-color="#23898e"/><stop offset="0.035" stop-color="#24868e"/><stop offset="0.055" stop-color="#27808e"/><stop offset="0.080" stop-color="#2a778e"/><stop offset="0.115" stop-color="#2e6d90"/><stop offset="0.160" stop-color="#346191"/><stop offset="0.215" stop-color="#395592"/><stop offset="0.290" stop-color="#3f4892"/><stop offset="0.390" stop-color="#443b90"/><stop offset="0.520" stop-color="#47318d"/><stop offset="0.700" stop-color="#4a2889"/><stop offset="1.000" stop-color="#4a2286"/></linearGradient>
<linearGradient id="h69" x1="0" x2="1" y1="0" y2="0"><stop offset="0.000" stop-color="#375a92"/><stop offset="0.005" stop-color="#355e92"/><stop offset="0.012" stop-color="#2a778f"/><stop offset="0.022" stop-color="#287d8e"/><stop offset="0.035" stop-color="#297a8e"/><stop offset="0.055" stop-color="#2b748f"/><stop offset="0.080" stop-color="#2e6d90"/><stop offset="0.115" stop-color="#336391"/><stop offset="0.160" stop-color="#375992"/><stop offset="0.215" stop-color="#3c4f92"/><stop offset="0.290" stop-color="#414391"/><stop offset="0.390" stop-color="#45378f"/><stop offset="0.520" stop-color="#482e8c"/><stop offset="0.700" stop-color="#4a2889"/><stop offset="1.000" stop-color="#4a2286"/></linearGradient>
<linearGradient id="h70" x1="0" x2="1" y1="0" y2="0"><stop offset="0.000" stop-color="#3c5092"/><stop offset="0.005" stop-color="#3a5292"/><stop offset="0.012" stop-color="#306891"/><stop offset="0.022" stop-color="#2e6e90"/><stop offset="0.035" stop-color="#2f6c90"/><stop offset="0.055" stop-color="#316691"/><stop offset="0.080" stop-color="#346091"/><stop offset="0.115" stop-color="#375992"/><stop offset="0.160" stop-color="#3c5092"/><stop offset="0.215" stop-color="#3f4892"/><stop offset="0.290" stop-color="#433e90"/><stop offset="0.390" stop-color="#46358e"/><stop offset="0.520" stop-color="#482d8b"/><stop offset="0.700" stop-color="#4a2688"/><stop offset="1.000" stop-color="#4a2286"/></linearGradient>
<linearGradient id="h71" x1="0" x2="1" y1="0" y2="0"><stop offset="0.000" stop-color="#404691"/><stop offset="0.005" stop-color="#3f4992"/><stop offset="0.012" stop-color="#365b92"/><stop offset="0.022" stop-color="#346092"/><stop offset="0.035" stop-color="#355e92"/><stop offset="0.055" stop-color="#375a92"/><stop offset="0.080" stop-color="#395592"/><stop offset="0.115" stop-color="#3c4f92"/><stop offset="0.160" stop-color="#3f4892"/><stop offset="0.215" stop-color="#424091"/><stop offset="0.290" stop-color="#45398f"/><stop offset="0.390" stop-color="#47318d"/><stop offset="0.520" stop-color="#492a8a"/><stop offset="0.700" stop-color="#4a2587"/><stop offset="1.000" stop-color="#4a2286"/></linearGradient>
<linearGradient id="h72" x1="0" x2="1" y1="0" y2="0"><stop offset="0.000" stop-color="#433f90"/><stop offset="0.005" stop-color="#424291"/><stop offset="0.012" stop-color="#3b5192"/><stop offset="0.022" stop-color="#395592"/><stop offset="0.035" stop-color="#3a5392"/><stop offset="0.055" stop-color="#3c5092"/><stop offset="0.080" stop-color="#3e4b92"/><stop offset="0.115" stop-color="#404691"/><stop offset="0.160" stop-color="#424091"/><stop offset="0.215" stop-color="#443b90"/><stop offset="0.290" stop-color="#46358e"/><stop offset="0.390" stop-color="#482e8c"/><stop offset="0.520" stop-color="#492989"/><stop offset="0.700" stop-color="#4a2587"/><stop offset="1.000" stop-color="#4b2185"/></linearGradient>
<linearGradient id="h73" x1="0" x2="1" y1="0" y2="0"><stop offset="0.000" stop-color="#443c90"/><stop offset="0.005" stop-color="#433e90"/><stop offset="0.012" stop-color="#3d4c92"/><stop offset="0.022" stop-color="#3c5092"/><stop offset="0.035" stop-color="#3c4f92"/><stop offset="0.055" stop-color="#3e4b92"/><stop offset="0.080" stop-color="#3f4892"/><stop offset="0.115" stop-color="#414391"/><stop offset="0.160" stop-color="#443d90"/><stop offset="0.215" stop-color="#45378f"/><stop offset="0.290" stop-color="#47328d"/><stop offset="0.390" stop-color="#492c8a"/><stop offset="0.520" stop-color="#4a2889"/><stop offset="0.700" stop-color="#4a2487"/><stop offset="1.000" stop-color="#4b2185"/></linearGradient>
<linearGradient id="h74" x1="0" x2="1" y1="0" y2="0"><stop offset="0.000" stop-color="#453a8f"/><stop offset="0.005" stop-color="#443c90"/><stop offset="0.012" stop-color="#3f4992"/><stop offset="0.022" stop-color="#3d4c92"/><stop offset="0.035" stop-color="#3e4b92"/><stop offset="0.055" stop-color="#3f4892"/><stop offset="0.080" stop-color="#414491"/><stop offset="0.115" stop-color="#424091"/><stop offset="0.160" stop-color="#443b90"/><stop offset="0.215" stop-color="#46368e"/><stop offset="0.290" stop-color="#47318d"/><stop offset="0.390" stop-color="#492c8b"/><stop offset="0.520" stop-color="#4a2688"/><stop offset="0.700" stop-color="#4a2487"/><stop offset="1.000" stop-color="#4b2185"/></linearGradient>
<linearGradient id="h75" x1="0" x2="1" y1="0" y2="0"><stop offset="0.000" stop-color="#453a8f"/><stop offset="0.005" stop-color="#443c90"/><stop offset="0.012" stop-color="#3e4a92"/><stop offset="0.022" stop-color="#3d4c92"/><stop offset="0.035" stop-color="#3e4b92"/><stop offset="0.055" stop-color="#3f4992"/><stop offset="0.080" stop-color="#404591"/><stop offset="0.115" stop-color="#424091"/><stop offset="0.160" stop-color="#443b90"/><stop offset="0.215" stop-color="#46368e"/><stop offset="0.290" stop-color="#47318d"/><stop offset="0.390" stop-color="#492c8b"/><stop offset="0.520" stop-color="#4a2688"/><stop offset="0.700" stop-color="#4a2487"/><stop offset="1.000" stop-color="#4b2185"/></linearGradient>
<linearGradient id="h76" x1="0" x2="1" y1="0" y2="0"><stop offset="0.000" stop-color="#443c90"/><stop offset="0.005" stop-color="#433e90"/><stop offset="0.012" stop-color="#3d4c92"/><stop offset="0.022" stop-color="#3c5092"/><stop offset="0.035" stop-color="#3d4e92"/><stop offset="0.055" stop-color="#3e4b92"/><stop offset="0.080" stop-color="#404691"/><stop offset="0.115" stop-color="#424291"/><stop offset="0.160" stop-color="#443c90"/><stop offset="0.215" stop-color="#45378f"/><stop offset="0.290" stop-color="#47318d"/><stop offset="0.390" stop-color="#492c8b"/><stop offset="0.520" stop-color="#4a2688"/><stop offset="0.700" stop-color="#4a2487"/><stop offset="1.000" stop-color="#4b2185"/></linearGradient>
<linearGradient id="h77" x1="0" x2="1" y1="0" y2="0"><stop offset="0.000" stop-color="#433f90"/><stop offset="0.005" stop-color="#424191"/><stop offset="0.012" stop-color="#3b5192"/><stop offset="0.022" stop-color="#395592"/><stop offset="0.035" stop-color="#3a5292"/><stop offset="0.055" stop-color="#3c4f92"/><stop offset="0.080" stop-color="#3e4b92"/><stop offset="0.115" stop-color="#404591"/><stop offset="0.160" stop-color="#433f90"/><stop offset="0.215" stop-color="#45398f"/><stop offset="0.290" stop-color="#47328d"/><stop offset="0.390" stop-color="#482d8b"/><stop offset="0.520" stop-color="#4a2889"/><stop offset="0.700" stop-color="#4a2487"/><stop offset="1.000" stop-color="#4b2185"/></linearGradient>
<linearGradient id="h78" x1="0" x2="1" y1="0" y2="0"><stop offset="0.000" stop-color="#414491"/><stop offset="0.005" stop-color="#404692"/><stop offset="0.012" stop-color="#385892"/><stop offset="0.022" stop-color="#365b92"/><stop offset="0.035" stop-color="#375a92"/><stop offset="0.055" stop-color="#395692"/><stop offset="0.080" stop-color="#3b5192"/><stop offset="0.115" stop-color="#3e4a92"/><stop offset="0.160" stop-color="#414491"/><stop offset="0.215" stop-color="#443c90"/><stop offset="0.290" stop-color="#46358e"/><stop offset="0.390" stop-color="#482e8c"/><stop offset="0.520" stop-color="#492989"/><stop offset="0.700" stop-color="#4a2487"/><stop offset="1.000" stop-color="#4b2185"/></linearGradient>
<linearGradient id="h79" x1="0" x2="1" y1="0" y2="0"><stop offset="0.000" stop-color="#3e4b92"/><stop offset="0.005" stop-color="#3d4e92"/><stop offset="0.012" stop-color="#336291"/><stop offset="0.022" stop-color="#316691"/><stop offset="0.035" stop-color="#326491"/><stop offset="0.055" stop-color="#355f92"/><stop offset="0.080" stop-color="#375992"/><stop offset="0.115" stop-color="#3a5292"/><stop offset="0.160" stop-color="#3e4a92"/><stop offset="0.215" stop-color="#424291"/><stop offset="0.290" stop-color="#45398f"/><stop offset="0.390" stop-color="#47318d"/><stop offset="0.520" stop-color="#492a8a"/><stop offset="0.700" stop-color="#4a2587"/><stop offset="1.000" stop-color="#4b2185"/></linearGradient>
<linearGradient id="h80" x1="0" x2="1" y1="0" y2="0"><stop offset="0.000" stop-color="#395592"/><stop offset="0.005" stop-color="#385792"/><stop offset="0.012" stop-color="#2e6e90"/><stop offset="0.022" stop-color="#2b748f"/><stop offset="0.035" stop-color="#2d718f"/><stop offset="0.055" stop-color="#2f6c90"/><stop offset="0.080" stop-color="#326491"/><stop offset="0.115" stop-color="#365c92"/><stop offset="0.160" stop-color="#3a5292"/><stop offset="0.215" stop-color="#3f4992"/><stop offset="0.290" stop-color="#433e90"/><stop offset="0.390" stop-color="#46358e"/><stop offset="0.520" stop-color="#492c8a"/><stop offset="0.700" stop-color="#4a2688"/><stop offset="1.000" stop-color="#4a2286"/></linearGradient>
<linearGradient id="h81" x1="0" x2="1" y1="0" y2="0"><stop offset="0.000" stop-color="#355f92"/><stop offset="0.005" stop-color="#336291"/><stop offset="0.012" stop-color="#287d8e"/><stop offset="0.022" stop-color="#26828e"/><stop offset="0.035" stop-color="#27808e"/><stop offset="0.055" stop-color="#297a8e"/><stop offset="0.080" stop-color="#2c728f"/><stop offset="0.115" stop-color="#316791"/><stop offset="0.160" stop-color="#365c92"/><stop offset="0.215" stop-color="#3b5192"/><stop offset="0.290" stop-color="#414491"/><stop offset="0.390" stop-color="#45398f"/><stop offset="0.520" stop-color="#482e8c"/><stop offset="0.700" stop-color="#4a2889"/><stop offset="1.000" stop-color="#4a2286"/></linearGradient>
<linearGradient id="h82" x1="0" x2="1" y1="0" y2="0"><stop offset="0.000" stop-color="#2f6b90"/><stop offset="0.005" stop-color="#2e6f90"/><stop offset="0.012" stop-color="#228d8d"/><stop offset="0.022" stop-color="#1f948c"/><stop offset="0.035" stop-color="#21918c"/><stop offset="0.055" stop-color="#23898e"/><stop offset="0.080" stop-color="#26818e"/><stop offset="0.115" stop-color="#2b758f"/><stop offset="0.160" stop-color="#316791"/><stop offset="0.215" stop-color="#375a92"/><stop offset="0.290" stop-color="#3e4b92"/><stop offset="0.390" stop-color="#433e90"/><stop offset="0.520" stop-color="#47328d"/><stop offset="0.700" stop-color="#492989"/><stop offset="1.000" stop-color="#4a2286"/></linearGradient>
<linearGradient id="h83" x1="0" x2="1" y1="0" y2="0"><stop offset="0.000" stop-color="#29798e"/><stop offset="0.005" stop-color="#287d8e"/><stop offset="0.012" stop-color="#1fa188"/><stop offset="0.022" stop-color="#23a983"/><stop offset="0.035" stop-color="#21a585"/><stop offset="0.055" stop-color="#1e9c89"/><stop offset="0.080" stop-color="#21918c"/><stop offset="0.115" stop-color="#25838e"/><stop offset="0.160" stop-color="#2b758f"/><stop offset="0.215" stop-color="#326591"/><stop offset="0.290" stop-color="#3a5392"/><stop offset="0.390" stop-color="#414391"/><stop offset="0.520" stop-color="#46358e"/><stop offset="0.700" stop-color="#492a8a"/><stop offset="1.000" stop-color="#4a2487"/></linearGradient>
<linearGradient id="h84" x1="0" x2="1" y1="0" y2="0"><stop offset="0.000" stop-color="#24868e"/><stop offset="0.005" stop-color="#238a8d"/><stop offset="0.012" stop-color="#2fb47c"/><stop offset="0.022" stop-color="#40bd72"/><stop offset="0.035" stop-color="#38b977"/><stop offset="0.055" stop-color="#28ae80"/><stop offset="0.080" stop-color="#1fa287"/><stop offset="0.115" stop-color="#20928c"/><stop offset="0.160" stop-color="#26828e"/><stop offset="0.215" stop-color="#2d7090"/><stop offset="0.290" stop-color="#365c92"/><stop offset="0.390" stop-color="#3f4992"/><stop offset="0.520" stop-color="#45398f"/><stop offset="0.700" stop-color="#482d8b"/><stop offset="1.000" stop-color="#4a2487"/></linearGradient>
<linearGradient id="h85" x1="0" x2="1" y1="0" y2="0"><stop offset="0.000" stop-color="#20938c"/><stop offset="0.005" stop-color="#1f988b"/><stop offset="0.012" stop-color="#58c765"/><stop offset="0.022" stop-color="#75d054"/><stop offset="0.035" stop-color="#67cc5c"/><stop offset="0.055" stop-color="#4ac16d"/><stop offset="0.080" stop-color="#2fb47c"/><stop offset="0.115" stop-color="#1fa287"/><stop offset="0.160" stop-color="#218f8d"/><stop offset="0.215" stop-color="#297b8e"/><stop offset="0.290" stop-color="#326591"/><stop offset="0.390" stop-color="#3c5092"/><stop offset="0.520" stop-color="#433e90"/><stop offset="0.700" stop-color="#482e8c"/><stop offset="1.000" stop-color="#4a2587"/></linearGradient>
<linearGradient id="h86" x1="0" x2="1" y1="0" y2="0"><stop offset="0.000" stop-color="#1f9e89"/><stop offset="0.005" stop-color="#20a386"/><stop offset="0.012" stop-color="#7fd34e"/><stop offset="0.022" stop-color="#a2da37"/><stop offset="0.035" stop-color="#90d743"/><stop offset="0.055" stop-color="#6ccd5a"/><stop offset="0.080" stop-color="#48c16e"/><stop offset="0.115" stop-color="#27ad81"/><stop offset="0.160" stop-color="#1f988b"/><stop offset="0.215" stop-color="#25838e"/><stop offset="0.290" stop-color="#2f6d90"/><stop offset="0.390" stop-color="#395592"/><stop offset="0.520" stop-color="#424091"/><stop offset="0.700" stop-color="#47318d"/><stop offset="1.000" stop-color="#4a2587"/></linearGradient>
<linearGradient id="h87" x1="0" x2="1" y1="0" y2="0"><stop offset="0.000" stop-color="#20a486"/><stop offset="0.005" stop-color="#24aa83"/><stop offset="0.012" stop-color="#9bd93c"/><stop offset="0.022" stop-color="#c2df23"/><stop offset="0.035" stop-color="#b0dd2f"/><stop offset="0.055" stop-color="#89d548"/><stop offset="0.080" stop-color="#5cc863"/><stop offset="0.115" stop-color="#32b67a"/><stop offset="0.160" stop-color="#1fa088"/><stop offset="0.215" stop-color="#23898e"/><stop offset="0.290" stop-color="#2d718f"/><stop offset="0.390" stop-color="#375992"/><stop offset="0.520" stop-color="#414391"/><stop offset="0.700" stop-color="#47328d"/><stop offset="1.000" stop-color="#4a2688"/></linearGradient>
<linearGradient id="h88" x1="0" x2="1" y1="0" y2="0"><stop offset="0.000" stop-color="#23a983"/><stop offset="0.005" stop-color="#28ae80"/><stop offset="0.012" stop-color="#addc30"/><stop offset="0.022" stop-color="#d8e219"/><stop offset="0.035" stop-color="#c5e021"/><stop offset="0.055" stop-color="#9bd93c"/><stop offset="0.080" stop-color="#69cd5b"/><stop offset="0.115" stop-color="#3bbb75"/><stop offset="0.160" stop-color="#20a486"/><stop offset="0.215" stop-color="#228d8d"/><stop offset="0.290" stop-color="#2b748f"/><stop offset="0.390" stop-color="#365b92"/><stop offset="0.520" stop-color="#404591"/><stop offset="0.700" stop-color="#47348e"/><stop offset="1.000" stop-color="#4a2688"/></linearGradient>
<linearGradient id="h89" x1="0" x2="1" y1="0" y2="0"><stop offset="0.000" stop-color="#23a983"/><stop offset="0.005" stop-color="#28ae80"/><stop offset="0.012" stop-color="#addc30"/><stop offset="0.022" stop-color="#d8e219"/><stop offset="0.035" stop-color="#c5e021"/><stop offset="0.055" stop-color="#9bd93c"/><stop offset="0.080" stop-color="#6ccd5a"/><stop offset="0.115" stop-color="#3dbc74"/><stop offset="0.160" stop-color="#21a585"/><stop offset="0.215" stop-color="#218e8d"/><stop offset="0.290" stop-color="#2b758f"/><stop offset="0.390" stop-color="#365c92"/><stop offset="0.520" stop-color="#404591"/><stop offset="0.700" stop-color="#47348d"/><stop offset="1.000" stop-color="#4a2688"/></linearGradient>
<linearGradient id="h90" x1="0" x2="1" y1="0" y2="0"><stop offset="0.000" stop-color="#20a486"/><stop offset="0.005" stop-color="#24aa83"/><stop offset="0.012" stop-color="#9bd93c"/><stop offset="0.022" stop-color="#c5e021"/><stop offset="0.035" stop-color="#b2dd2d"/><stop offset="0.055" stop-color="#8bd646"/><stop offset="0.080" stop-color="#60ca60"/><stop offset="0.115" stop-color="#37b878"/><stop offset="0.160" stop-color="#1fa287"/><stop offset="0.215" stop-color="#228c8d"/><stop offset="0.290" stop-color="#2b748f"/><stop offset="0.390" stop-color="#365b92"/><stop offset="0.520" stop-color="#404591"/><stop offset="0.700" stop-color="#47348d"/><stop offset="1.000" stop-color="#4a2688"/></linearGradient>
<linearGradient id="h91" x1="0" x2="1" y1="0" y2="0"><stop offset="0.000" stop-color="#1e9c89"/><stop offset="0.005" stop-color="#1fa187"/><stop offset="0.012" stop-color="#7ad151"/><stop offset="0.022" stop-color="#9dd93b"/><stop offset="0.035" stop-color="#90d743"/><stop offset="0.055" stop-color="#6ccd5a"/><stop offset="0.080" stop-color="#4ac16d"/><stop offset="0.115" stop-color="#2ab07f"/><stop offset="0.160" stop-color="#1e9b8a"/><stop offset="0.215" stop-color="#24868e"/><stop offset="0.290" stop-color="#2d7090"/><stop offset="0.390" stop-color="#375992"/><stop offset="0.520" stop-color="#414491"/><stop offset="0.700" stop-color="#47348e"/><stop offset="1.000" stop-color="#4a2688"/></linearGradient>
<linearGradient id="h92" x1="0" x2="1" y1="0" y2="0"><stop offset="0.000" stop-color="#20928c"/><stop offset="0.005" stop-color="#1f978b"/><stop offset="0.012" stop-color="#56c667"/><stop offset="0.022" stop-color="#73d056"/><stop offset="0.035" stop-color="#67cc5c"/><stop offset="0.055" stop-color="#4ec36b"/><stop offset="0.080" stop-color="#34b679"/><stop offset="0.115" stop-color="#21a685"/><stop offset="0.160" stop-color="#20938c"/><stop offset="0.215" stop-color="#26818e"/><stop offset="0.290" stop-color="#2f6c90"/><stop offset="0.390" stop-color="#395692"/><stop offset="0.520" stop-color="#414391"/><stop offset="0.700" stop-color="#47328d"/><stop offset="1.000" stop-color="#4a2688"/></linearGradient>
<linearGradient id="h93" x1="0" x2="1" y1="0" y2="0"><stop offset="0.000" stop-color="#24868e"/><stop offset="0.005" stop-color="#228b8d"/><stop offset="0.012" stop-color="#34b679"/><stop offset="0.022" stop-color="#48c16e"/><stop offset="0.035" stop-color="#3fbc73"/><stop offset="0.055" stop-color="#2fb47c"/><stop offset="0.080" stop-color="#22a884"/><stop offset="0.115" stop-color="#1f998a"/><stop offset="0.160" stop-color="#23898e"/><stop offset="0.215" stop-color="#29798e"/><stop offset="0.290" stop-color="#326591"/><stop offset="0.390" stop-color="#3a5292"/><stop offset="0.520" stop-color="#424091"/><stop offset="0.700" stop-color="#47318d"/><stop offset="1.000" stop-color="#4a2688"/></linearGradient>
<linearGradient id="h94" x1="0" x2="1" y1="0" y2="0"><stop offset="0.000" stop-color="#297b8e"/><stop offset="0.005" stop-color="#27808e"/><stop offset="0.012" stop-color="#21a585"/><stop offset="0.022" stop-color="#29af7f"/><stop offset="0.035" stop-color="#25ac82"/><stop offset="0.055" stop-color="#20a386"/><stop offset="0.080" stop-color="#1f9a8a"/><stop offset="0.115" stop-color="#228d8d"/><stop offset="0.160" stop-color="#277f8e"/><stop offset="0.215" stop-color="#2d7090"/><stop offset="0.290" stop-color="#355f92"/><stop offset="0.390" stop-color="#3d4e92"/><stop offset="0.520" stop-color="#433e90"/><stop offset="0.700" stop-color="#48308c"/><stop offset="1.000" stop-color="#4a2587"/></linearGradient>
<linearGradient id="h95" x1="0" x2="1" y1="0" y2="0"><stop offset="0.000" stop-color="#2e6f90"/><stop offset="0.005" stop-color="#2c738f"/><stop offset="0.012" stop-color="#20938c"/><stop offset="0.022" stop-color="#1e9c89"/><stop offset="0.035" stop-color="#1f998a"/><stop offset="0.055" stop-color="#20928c"/><stop offset="0.080" stop-color="#238a8d"/><stop offset="0.115" stop-color="#27808e"/><stop offset="0.160" stop-color="#2b748f"/><stop offset="0.215" stop-color="#316691"/><stop offset="0.290" stop-color="#385892"/><stop offset="0.390" stop-color="#3f4892"/><stop offset="0.520" stop-color="#453a8f"/><stop offset="0.700" stop-color="#482e8c"/><stop offset="1.000" stop-color="#4a2587"/></linearGradient>
<linearGradient id="h96" x1="0" x2="1" y1="0" y2="0"><stop offset="0.000" stop-color="#336391"/><stop offset="0.005" stop-color="#316691"/><stop offset="0.012" stop-color="#25838e"/><stop offset="0.022" stop-color="#228b8d"/><stop offset="0.035" stop-color="#23898e"/><stop offset="0.055" stop-color="#25838e"/><stop offset="0.080" stop-color="#287c8e"/><stop offset="0.115" stop-color="#2c738f"/><stop offset="0.160" stop-color="#306891"/><stop offset="0.215" stop-color="#355e92"/><stop offset="0.290" stop-color="#3c5092"/><stop offset="0.390" stop-color="#414391"/><stop offset="0.520" stop-color="#46368e"/><stop offset="0.700" stop-color="#482d8b"/><stop offset="1.000" stop-color="#4a2587"/></linearGradient>
<linearGradient id="h97" x1="0" x2="1" y1="0" y2="0"><stop offset="0.000" stop-color="#385892"/><stop offset="0.005" stop-color="#365b92"/><stop offset="0.012" stop-color="#2b758f"/><stop offset="0.022" stop-color="#297b8e"/><stop offset="0.035" stop-color="#297a8e"/><stop offset="0.055" stop-color="#2b758f"/><stop offset="0.080" stop-color="#2e6f90"/><stop offset="0.115" stop-color="#316691"/><stop offset="0.160" stop-color="#355e92"/><stop offset="0.215" stop-color="#3a5392"/><stop offset="0.290" stop-color="#3f4992"/><stop offset="0.390" stop-color="#433e90"/><stop offset="0.520" stop-color="#47348e"/><stop offset="0.700" stop-color="#492a8a"/><stop offset="1.000" stop-color="#4a2487"/></linearGradient>
<linearGradient id="h98" x1="0" x2="1" y1="0" y2="0"><stop offset="0.000" stop-color="#3c4f92"/><stop offset="0.005" stop-color="#3a5292"/><stop offset="0.012" stop-color="#316791"/><stop offset="0.022" stop-color="#2e6d90"/><stop offset="0.035" stop-color="#2f6c90"/><stop offset="0.055" stop-color="#316791"/><stop offset="0.080" stop-color="#336291"/><stop offset="0.115" stop-color="#365b92"/><stop offset="0.160" stop-color="#3a5392"/><stop offset="0.215" stop-color="#3e4b92"/><stop offset="0.290" stop-color="#414391"/><stop offset="0.390" stop-color="#45398f"/><stop offset="0.520" stop-color="#48308c"/><stop offset="0.700" stop-color="#492989"/><stop offset="1.000" stop-color="#4a2487"/></linearGradient>
<linearGradient id="h99" x1="0" x2="1" y1="0" y2="0"><stop offset="0.000" stop-color="#404691"/><stop offset="0.005" stop-color="#3f4992"/><stop offset="0.012" stop-color="#365b92"/><stop offset="0.022" stop-color="#346192"/><stop offset="0.035" stop-color="#355f92"/><stop offset="0.055" stop-color="#365b92"/><stop offset="0.080" stop-color="#385792"/><stop offset="0.115" stop-color="#3a5292"/><stop offset="0.160" stop-color="#3e4b92"/><stop offset="0.215" stop-color="#414491"/><stop offset="0.290" stop-color="#443c90"/><stop offset="0.390" stop-color="#46358e"/><stop offset="0.520" stop-color="#482d8b"/><stop offset="0.700" stop-color="#4a2889"/><stop offset="1.000" stop-color="#4a2286"/></linearGradient>
<clipPath id="cb"><rect x="388" y="17.4" width="107.3" height="97.1"/></clipPath>
<clipPath id="cd"><rect x="75.3" y="165.3" width="95.6" height="71"/></clipPath>
<clipPath id="ce"><rect x="71.8" y="270.3" width="101.8" height="75.9"/></clipPath>
<clipPath id="cg"><rect x="315.5" y="393.2" width="117.5" height="88.3"/></clipPath>
</defs>
<g shape-rendering="crispEdges"><rect x="55.3" y="15.00" width="132.50" height="1.29" fill="url(#h0)"/>
<rect x="55.3" y="15.99" width="132.50" height="1.29" fill="url(#h1)"/>
<rect x="55.3" y="16.98" width="132.50" height="1.29" fill="url(#h2)"/>
<rect x="55.3" y="17.97" width="132.50" height="1.29" fill="url(#h3)"/>
<rect x="55.3" y="18.96" width="132.50" height="1.29" fill="url(#h4)"/>
<rect x="55.3" y="19.95" width="132.50" height="1.29" fill="url(#h5)"/>
<rect x="55.3" y="20.95" width="132.50" height="1.29" fill="url(#h6)"/>
<rect x="55.3" y="21.94" width="132.50" height="1.29" fill="url(#h7)"/>
<rect x="55.3" y="22.93" width="132.50" height="1.29" fill="url(#h8)"/>
<rect x="55.3" y="23.92" width="132.50" height="1.29" fill="url(#h9)"/>
<rect x="55.3" y="24.91" width="132.50" height="1.29" fill="url(#h10)"/>
<rect x="55.3" y="25.90" width="132.50" height="1.29" fill="url(#h11)"/>
<rect x="55.3" y="26.89" width="132.50" height="1.29" fill="url(#h12)"/>
<rect x="55.3" y="27.88" width="132.50" height="1.29" fill="url(#h13)"/>
<rect x="55.3" y="28.87" width="132.50" height="1.29" fill="url(#h14)"/>
<rect x="55.3" y="29.87" width="132.50" height="1.29" fill="url(#h15)"/>
<rect x="55.3" y="30.86" width="132.50" height="1.29" fill="url(#h16)"/>
<rect x="55.3" y="31.85" width="132.50" height="1.29" fill="url(#h17)"/>
<rect x="55.3" y="32.84" width="132.50" height="1.29" fill="url(#h18)"/>
<rect x="55.3" y="33.83" width="132.50" height="1.29" fill="url(#h19)"/>
<rect x="55.3" y="34.82" width="132.50" height="1.29" fill="url(#h20)"/>
<rect x="55.3" y="35.81" width="132.50" height="1.29" fill="url(#h21)"/>
<rect x="55.3" y="36.80" width="132.50" height="1.29" fill="url(#h22)"/>
<rect x="55.3" y="37.79" width="132.50" height="1.29" fill="url(#h23)"/>
<rect x="55.3" y="38.78" width="132.50" height="1.29" fill="url(#h24)"/>
<rect x="55.3" y="39.77" width="132.50" height="1.29" fill="url(#h25)"/>
<rect x="55.3" y="40.77" width="132.50" height="1.29" fill="url(#h26)"/>
<rect x="55.3" y="41.76" width="132.50" height="1.29" fill="url(#h27)"/>
<rect x="55.3" y="42.75" width="132.50" height="1.29" fill="url(#h28)"/>
<rect x="55.3" y="43.74" width="132.50" height="1.29" fill="url(#h29)"/>
<rect x="55.3" y="44.73" width="132.50" height="1.29" fill="url(#h30)"/>
<rect x="55.3" y="45.72" width="132.50" height="1.29" fill="url(#h31)"/>
<rect x="55.3" y="46.71" width="132.50" height="1.29" fill="url(#h32)"/>
<rect x="55.3" y="47.70" width="132.50" height="1.29" fill="url(#h33)"/>
<rect x="55.3" y="48.69" width="132.50" height="1.29" fill="url(#h34)"/>
<rect x="55.3" y="49.69" width="132.50" height="1.29" fill="url(#h35)"/>
<rect x="55.3" y="50.68" width="132.50" height="1.29" fill="url(#h36)"/>
<rect x="55.3" y="51.67" width="132.50" height="1.29" fill="url(#h37)"/>
<rect x="55.3" y="52.66" width="132.50" height="1.29" fill="url(#h38)"/>
<rect x="55.3" y="53.65" width="132.50" height="1.29" fill="url(#h39)"/>
<rect x="55.3" y="54.64" width="132.50" height="1.29" fill="url(#h40)"/>
<rect x="55.3" y="55.63" width="132.50" height="1.29" fill="url(#h41)"/>
<rect x="55.3" y="56.62" width="132.50" height="1.29" fill="url(#h42)"/>
<rect x="55.3" y="57.61" width="132.50" height="1.29" fill="url(#h43)"/>
<rect x="55.3" y="58.60" width="132.50" height="1.29" fill="url(#h44)"/>
<rect x="55.3" y="59.59" width="132.50" height="1.29" fill="url(#h45)"/>
<rect x="55.3" y="60.59" width="132.50" height="1.29" fill="url(#h46)"/>
<rect x="55.3" y="61.58" width="132.50" height="1.29" fill="url(#h47)"/>
<rect x="55.3" y="62.57" width="132.50" height="1.29" fill="url(#h48)"/>
<rect x="55.3" y="63.56" width="132.50" height="1.29" fill="url(#h49)"/>
<rect x="55.3" y="64.55" width="132.50" height="1.29" fill="url(#h50)"/>
<rect x="55.3" y="65.54" width="132.50" height="1.29" fill="url(#h51)"/>
<rect x="55.3" y="66.53" width="132.50" height="1.29" fill="url(#h52)"/>
<rect x="55.3" y="67.52" width="132.50" height="1.29" fill="url(#h53)"/>
<rect x="55.3" y="68.51" width="132.50" height="1.29" fill="url(#h54)"/>
<rect x="55.3" y="69.50" width="132.50" height="1.29" fill="url(#h55)"/>
<rect x="55.3" y="70.50" width="132.50" height="1.29" fill="url(#h56)"/>
<rect x="55.3" y="71.49" width="132.50" height="1.29" fill="url(#h57)"/>
<rect x="55.3" y="72.48" width="132.50" height="1.29" fill="url(#h58)"/>
<rect x="55.3" y="73.47" width="132.50" height="1.29" fill="url(#h59)"/>
<rect x="55.3" y="74.46" width="132.50" height="1.29" fill="url(#h60)"/>
<rect x="55.3" y="75.45" width="132.50" height="1.29" fill="url(#h61)"/>
<rect x="55.3" y="76.44" width="132.50" height="1.29" fill="url(#h62)"/>
<rect x="55.3" y="77.43" width="132.50" height="1.29" fill="url(#h63)"/>
<rect x="55.3" y="78.42" width="132.50" height="1.29" fill="url(#h64)"/>
<rect x="55.3" y="79.42" width="132.50" height="1.29" fill="url(#h65)"/>
<rect x="55.3" y="80.41" width="132.50" height="1.29" fill="url(#h66)"/>
<rect x="55.3" y="81.40" width="132.50" height="1.29" fill="url(#h67)"/>
<rect x="55.3" y="82.39" width="132.50" height="1.29" fill="url(#h68)"/>
<rect x="55.3" y="83.38" width="132.50" height="1.29" fill="url(#h69)"/>
<rect x="55.3" y="84.37" width="132.50" height="1.29" fill="url(#h70)"/>
<rect x="55.3" y="85.36" width="132.50" height="1.29" fill="url(#h71)"/>
<rect x="55.3" y="86.35" width="132.50" height="1.29" fill="url(#h72)"/>
<rect x="55.3" y="87.34" width="132.50" height="1.29" fill="url(#h73)"/>
<rect x="55.3" y="88.33" width="132.50" height="1.29" fill="url(#h74)"/>
<rect x="55.3" y="89.33" width="132.50" height="1.29" fill="url(#h75)"/>
<rect x="55.3" y="90.32" width="132.50" height="1.29" fill="url(#h76)"/>
<rect x="55.3" y="91.31" width="132.50" height="1.29" fill="url(#h77)"/>
<rect x="55.3" y="92.30" width="132.50" height="1.29" fill="url(#h78)"/>
<rect x="55.3" y="93.29" width="132.50" height="1.29" fill="url(#h79)"/>
<rect x="55.3" y="94.28" width="132.50" height="1.29" fill="url(#h80)"/>
<rect x="55.3" y="95.27" width="132.50" height="1.29" fill="url(#h81)"/>
<rect x="55.3" y="96.26" width="132.50" height="1.29" fill="url(#h82)"/>
<rect x="55.3" y="97.25" width="132.50" height="1.29" fill="url(#h83)"/>
<rect x="55.3" y="98.24" width="132.50" height="1.29" fill="url(#h84)"/>
<rect x="55.3" y="99.23" width="132.50" height="1.29" fill="url(#h85)"/>
<rect x="55.3" y="100.23" width="132.50" height="1.29" fill="url(#h86)"/>
<rect x="55.3" y="101.22" width="132.50" height="1.29" fill="url(#h87)"/>
<rect x="55.3" y="102.21" width="132.50" height="1.29" fill="url(#h88)"/>
<rect x="55.3" y="103.20" width="132.50" height="1.29" fill="url(#h89)"/>
<rect x="55.3" y="104.19" width="132.50" height="1.29" fill="url(#h90)"/>
<rect x="55.3" y="105.18" width="132.50" height="1.29" fill="url(#h91)"/>
<rect x="55.3" y="106.17" width="132.50" height="1.29" fill="url(#h92)"/>
<rect x="55.3" y="107.16" width="132.50" height="1.29" fill="url(#h93)"/>
<rect x="55.3" y="108.15" width="132.50" height="1.29" fill="url(#h94)"/>
<rect x="55.3" y="109.14" width="132.50" height="1.29" fill="url(#h95)"/>
<rect x="55.3" y="110.14" width="132.50" height="1.29" fill="url(#h96)"/>
<rect x="55.3" y="111.13" width="132.50" height="1.29" fill="url(#h97)"/>
<rect x="55.3" y="112.12" width="132.50" height="1.29" fill="url(#h98)"/>
<rect x="55.3" y="113.11" width="132.50" height="1.29" fill="url(#h99)"/></g>
<rect x="55.3" y="15.0" width="132.50" height="99.10" fill="none" stroke="#111" stroke-width="1"/>
<text x="2.80" y="11.90" font-size="13.8" text-anchor="start" font-family='"Liberation Sans", Arial, Helvetica, sans-serif' fill="#000">a)</text>
<text x="120.30" y="8.90" font-size="11.5" text-anchor="middle" font-weight="bold" font-family='"Liberation Sans", Arial, Helvetica, sans-serif' fill="#000">2D data</text>
<line x1="51.30" y1="114.10" x2="55.30" y2="114.10" stroke="#000" stroke-width="1"/>
<text x="46.30" y="118.30" font-size="14.2" text-anchor="end" font-family='"Liberation Sans", Arial, Helvetica, sans-serif' fill="#000">0</text>
<line x1="51.30" y1="75.35" x2="55.30" y2="75.35" stroke="#000" stroke-width="1"/>
<text x="46.30" y="79.55" font-size="14.2" text-anchor="end" font-family='"Liberation Sans", Arial, Helvetica, sans-serif' fill="#000">100</text>
<line x1="51.30" y1="36.60" x2="55.30" y2="36.60" stroke="#000" stroke-width="1"/>
<text x="46.30" y="40.80" font-size="14.2" text-anchor="end" font-family='"Liberation Sans", Arial, Helvetica, sans-serif' fill="#000">200</text>
<line x1="55.30" y1="114.10" x2="55.30" y2="118.10" stroke="#000" stroke-width="1"/>
<text x="55.30" y="132.90" font-size="14.2" text-anchor="middle" font-family='"Liberation Sans", Arial, Helvetica, sans-serif' fill="#000">0</text>
<line x1="122.45" y1="114.10" x2="122.45" y2="118.10" stroke="#000" stroke-width="1"/>
<text x="122.45" y="132.90" font-size="14.2" text-anchor="middle" font-family='"Liberation Sans", Arial, Helvetica, sans-serif' fill="#000">500</text>
<text x="116.50" y="149.90" font-size="13.5" text-anchor="middle" font-family='"Liberation Sans", Arial, Helvetica, sans-serif' fill="#000">time  (unit)</text>
<text x="14.90" y="53.50" font-size="14" text-anchor="middle" font-family='"Liberation Sans", Arial, Helvetica, sans-serif' fill="#000" transform="rotate(-90 14.90 53.50)">wl (unit)</text>
<polygon points="227.3,45.3 246.3,26.299999999999997 304.2,26.299999999999997 285.2,45.3" fill="#bcc6d4" stroke="#000" stroke-width="2.0" stroke-linejoin="miter" stroke-miterlimit="2"/>
<polygon points="285.2,45.3 304.2,26.299999999999997 304.2,90.4 285.2,109.4" fill="#8d98a8" stroke="#000" stroke-width="2.0" stroke-linejoin="miter" stroke-miterlimit="2"/>
<rect x="227.3" y="45.3" width="57.90" height="64.10" fill="#adb9ca" stroke="#000" stroke-width="2.0" stroke-linejoin="miter" stroke-miterlimit="2"/>
<text x="256.00" y="60.80" font-size="11.5" text-anchor="middle" font-family='"Liberation Sans", Arial, Helvetica, sans-serif' fill="#000">DLRN</text>
<text x="256.00" y="74.80" font-size="11.5" text-anchor="middle" font-family='"Liberation Sans", Arial, Helvetica, sans-serif' fill="#000">+</text>
<text x="256.00" y="88.80" font-size="11.5" text-anchor="middle" font-family='"Liberation Sans", Arial, Helvetica, sans-serif' fill="#000">model</text>
<text x="256.00" y="102.80" font-size="11.5" text-anchor="middle" font-family='"Liberation Sans", Arial, Helvetica, sans-serif' fill="#000">block</text>
<polygon points="218.6,181.7 237.7,162.6 295.6,162.6 276.5,181.7" fill="#bcc6d4" stroke="#000" stroke-width="2.0" stroke-linejoin="miter" stroke-miterlimit="2"/>
<polygon points="276.5,181.7 295.6,162.6 295.6,227.0 276.5,246.1" fill="#8d98a8" stroke="#000" stroke-width="2.0" stroke-linejoin="miter" stroke-miterlimit="2"/>
<rect x="218.6" y="181.7" width="57.90" height="64.40" fill="#adb9ca" stroke="#000" stroke-width="2.0" stroke-linejoin="miter" stroke-miterlimit="2"/>
<text x="247.70" y="204.20" font-size="11.5" text-anchor="middle" font-family='"Liberation Sans", Arial, Helvetica, sans-serif' fill="#000">DLRN</text>
<text x="247.70" y="218.30" font-size="11.5" text-anchor="middle" font-family='"Liberation Sans", Arial, Helvetica, sans-serif' fill="#000">+ time</text>
<text x="247.70" y="232.40" font-size="11.5" text-anchor="middle" font-family='"Liberation Sans", Arial, Helvetica, sans-serif' fill="#000">block</text>
<polygon points="218.6,288.6 237.6,269.6 295.5,269.6 276.5,288.6" fill="#bcc6d4" stroke="#000" stroke-width="2.0" stroke-linejoin="miter" stroke-miterlimit="2"/>
<polygon points="276.5,288.6 295.5,269.6 295.5,333.6 276.5,352.6" fill="#8d98a8" stroke="#000" stroke-width="2.0" stroke-linejoin="miter" stroke-miterlimit="2"/>
<rect x="218.6" y="288.6" width="57.90" height="64.00" fill="#adb9ca" stroke="#000" stroke-width="2.0" stroke-linejoin="miter" stroke-miterlimit="2"/>
<text x="247.70" y="310.70" font-size="11.5" text-anchor="middle" font-family='"Liberation Sans", Arial, Helvetica, sans-serif' fill="#000">DLRN</text>
<text x="247.70" y="324.70" font-size="11.5" text-anchor="middle" font-family='"Liberation Sans", Arial, Helvetica, sans-serif' fill="#000">+ amp.</text>
<text x="247.70" y="338.70" font-size="11.5" text-anchor="middle" font-family='"Liberation Sans", Arial, Helvetica, sans-serif' fill="#000">block</text>
<line x1="187.80" y1="70.70" x2="218.00" y2="70.70" stroke="#000" stroke-width="1.75"/>
<polygon points="224.80,70.70 217.20,74.20 217.20,67.20" fill="#000"/>
<line x1="296.20" y1="70.70" x2="326.00" y2="70.70" stroke="#000" stroke-width="1.75"/>
<polygon points="332.80,70.70 325.20,74.20 325.20,67.20" fill="#000"/>
<line x1="218.60" y1="207.50" x2="195.00" y2="207.50" stroke="#000" stroke-width="1.75"/>
<polygon points="188.80,207.50 196.40,204.00 196.40,211.00" fill="#000"/>
<line x1="218.60" y1="315.30" x2="198.00" y2="315.30" stroke="#000" stroke-width="1.75"/>
<polygon points="191.80,315.30 199.40,311.80 199.40,318.80" fill="#000"/>
<path d="M164,126.6 V148.7 H315.3 V329.2 H291" fill="none" stroke="#000" stroke-width="1.75" stroke-dasharray="4.9 2.1"/>
<path d="M315.3,198.0 H291" fill="none" stroke="#000" stroke-width="1.75" stroke-dasharray="4.9 2.1"/>
<polygon points="284.50,198.00 292.10,194.50 292.10,201.50" fill="#000"/>
<polygon points="285.40,329.20 293.00,325.70 293.00,332.70" fill="#000"/>
<path d="M364,263.4 H327.7 M291,220.8 H327.7 V305.4 H291" fill="none" stroke="#000" stroke-width="1.75"/>
<polygon points="284.50,220.80 292.10,217.30 292.10,224.30" fill="#000"/>
<polygon points="284.50,305.40 292.10,301.90 292.10,308.90" fill="#000"/>
<text x="356.20" y="9.70" font-size="13.8" text-anchor="start" font-family='"Liberation Sans", Arial, Helvetica, sans-serif' fill="#000">b)</text>
<text x="440.30" y="8.90" font-size="11.7" text-anchor="middle" font-weight="bold" font-family='"Liberation Sans", Arial, Helvetica, sans-serif' fill="#000">One-hot prediction</text>
<g clip-path="url(#cb)">
<rect x="385" y="110.80" width="112" height="7" fill="#ff0000"/>
<path d="M456.90,114.2 L457.50,27.13 L458.10,114.2" fill="none" stroke="#ff0000" stroke-width="1.9" stroke-linejoin="round"/>
<circle cx="457.50" cy="27.13" r="3.05" fill="#ff0000"/>
<circle cx="435.38" cy="113.85" r="3.2" fill="#ff0000"/>
</g>
<rect x="388.0" y="17.4" width="107.30" height="97.10" fill="none" stroke="#222" stroke-width="0.8"/>
<line x1="384.80" y1="114.20" x2="388.00" y2="114.20" stroke="#222" stroke-width="0.8"/>
<text x="381.90" y="118.00" font-size="10.5" text-anchor="end" font-family='"Liberation Sans", Arial, Helvetica, sans-serif' fill="#000">0.00</text>
<line x1="384.80" y1="92.10" x2="388.00" y2="92.10" stroke="#222" stroke-width="0.8"/>
<text x="381.90" y="95.90" font-size="10.5" text-anchor="end" font-family='"Liberation Sans", Arial, Helvetica, sans-serif' fill="#000">0.25</text>
<line x1="384.80" y1="70.00" x2="388.00" y2="70.00" stroke="#222" stroke-width="0.8"/>
<text x="381.90" y="73.80" font-size="10.5" text-anchor="end" font-family='"Liberation Sans", Arial, Helvetica, sans-serif' fill="#000">0.50</text>
<line x1="384.80" y1="47.90" x2="388.00" y2="47.90" stroke="#222" stroke-width="0.8"/>
<text x="381.90" y="51.70" font-size="10.5" text-anchor="end" font-family='"Liberation Sans", Arial, Helvetica, sans-serif' fill="#000">0.75</text>
<line x1="384.80" y1="25.80" x2="388.00" y2="25.80" stroke="#222" stroke-width="0.8"/>
<text x="381.90" y="29.60" font-size="10.5" text-anchor="end" font-family='"Liberation Sans", Arial, Helvetica, sans-serif' fill="#000">1.00</text>
<line x1="388.00" y1="114.50" x2="388.00" y2="117.70" stroke="#222" stroke-width="0.8"/>
<text x="388.00" y="128.20" font-size="10.3" text-anchor="middle" font-family='"Liberation Sans", Arial, Helvetica, sans-serif' fill="#000">0</text>
<line x1="440.65" y1="114.50" x2="440.65" y2="117.70" stroke="#222" stroke-width="0.8"/>
<text x="440.65" y="128.20" font-size="10.3" text-anchor="middle" font-family='"Liberation Sans", Arial, Helvetica, sans-serif' fill="#000">50</text>
<line x1="493.30" y1="114.50" x2="493.30" y2="117.70" stroke="#222" stroke-width="0.8"/>
<text x="493.30" y="128.20" font-size="10.3" text-anchor="middle" font-family='"Liberation Sans", Arial, Helvetica, sans-serif' fill="#000">100</text>
<text x="441.50" y="140.60" font-size="10.3" text-anchor="middle" font-family='"Liberation Sans", Arial, Helvetica, sans-serif' fill="#000">model index</text>
<text x="357.20" y="66.60" font-size="10.4" text-anchor="middle" font-family='"Liberation Sans", Arial, Helvetica, sans-serif' fill="#000" transform="rotate(-90 357.20 66.60)">probability</text>
<rect x="390.6" y="20.4" width="60.3" height="12" rx="1.4" fill="#fff" fill-opacity="0.8" stroke="#ccc" stroke-width="0.8"/>
<line x1="393.30" y1="26.30" x2="408.00" y2="26.30" stroke="#ff0000" stroke-width="1.6"/>
<circle cx="400.6" cy="26.3" r="3.1" fill="#ff0000"/>
<text x="413.10" y="28.80" font-size="7.1" text-anchor="start" font-family='"DejaVu Sans", "Liberation Sans", sans-serif' fill="#000">prediction</text>
<line x1="443.90" y1="147.50" x2="443.90" y2="163.20" stroke="#000" stroke-width="1.75"/>
<rect x="393.9" y="163.3" width="99.8" height="36.7" fill="#fff" stroke="#000" stroke-width="1"/>
<text x="443.20" y="179.00" font-size="11.5" text-anchor="middle" font-weight="bold" font-family='"Liberation Sans", Arial, Helvetica, sans-serif' fill="#000">Conversion to</text>
<text x="443.90" y="193.00" font-size="11.5" text-anchor="middle" font-weight="bold" font-family='"Liberation Sans", Arial, Helvetica, sans-serif' fill="#000">model matrix</text>
<line x1="443.90" y1="200.00" x2="443.90" y2="217.00" stroke="#000" stroke-width="1.75"/>
<polygon points="443.90,223.20 440.40,215.60 447.40,215.60" fill="#000"/>
<text x="355.60" y="218.70" font-size="13.8" text-anchor="start" font-family='"Liberation Sans", Arial, Helvetica, sans-serif' fill="#000">c)</text>
<path d="M367.8,236.4 H364 V295 H367.8" fill="none" stroke="#000" stroke-width="1.1"/>
<path d="M510.3,236.4 H514.1 V295 H510.3" fill="none" stroke="#000" stroke-width="1.1"/>
<text x="367.70" y="245.10" font-size="13.0" text-anchor="start" font-family='"DejaVu Serif", "Liberation Serif", serif' fill="#000">−</text>
<text x="377.60" y="245.00" font-size="13.4" font-family='"DejaVu Serif", "Liberation Serif", serif' fill="#000">k<tspan font-size="8.6" dy="2.8" dx="-0.1">1</tspan></text>
<text x="398.40" y="245.10" font-size="13.0" text-anchor="start" font-family='"DejaVu Serif", "Liberation Serif", serif' fill="#000">−</text>
<text x="412.60" y="245.00" font-size="13.4" font-family='"DejaVu Serif", "Liberation Serif", serif' fill="#000">k<tspan font-size="8.6" dy="2.8" dx="-0.1">2</tspan></text>
<text x="390.60" y="262.20" font-size="13.4" font-family='"DejaVu Serif", "Liberation Serif", serif' fill="#000">k<tspan font-size="8.6" dy="2.8" dx="-0.1">1</tspan></text>
<text x="390.60" y="279.20" font-size="13.4" font-family='"DejaVu Serif", "Liberation Serif", serif' fill="#000">k<tspan font-size="8.6" dy="2.8" dx="-0.1">2</tspan></text>
<text x="397.50" y="296.30" font-size="13.7" text-anchor="middle" font-family='"Liberation Serif", "DejaVu Serif", serif' fill="#000">0</text>
<text x="446.20" y="245.00" font-size="13.7" text-anchor="middle" font-family='"Liberation Serif", "DejaVu Serif", serif' fill="#000">0</text>
<text x="477.50" y="245.00" font-size="13.7" text-anchor="middle" font-family='"Liberation Serif", "DejaVu Serif", serif' fill="#000">0</text>
<text x="505.30" y="245.00" font-size="13.7" text-anchor="middle" font-family='"Liberation Serif", "DejaVu Serif", serif' fill="#000">0</text>
<text x="441.70" y="262.30" font-size="13.0" text-anchor="start" font-family='"DejaVu Serif", "Liberation Serif", serif' fill="#000">−</text>
<text x="452.30" y="262.20" font-size="13.4" font-family='"DejaVu Serif", "Liberation Serif", serif' fill="#000">k<tspan font-size="8.6" dy="2.8" dx="-0.1">3</tspan></text>
<text x="484.60" y="262.20" font-size="13.7" text-anchor="middle" font-family='"Liberation Serif", "DejaVu Serif", serif' fill="#000">0</text>
<text x="506.00" y="262.20" font-size="13.7" text-anchor="middle" font-family='"Liberation Serif", "DejaVu Serif", serif' fill="#000">0</text>
<text x="445.00" y="279.20" font-size="13.7" text-anchor="middle" font-family='"Liberation Serif", "DejaVu Serif", serif' fill="#000">0</text>
<text x="463.30" y="279.30" font-size="13.0" text-anchor="start" font-family='"DejaVu Serif", "Liberation Serif", serif' fill="#000">−</text>
<text x="473.50" y="279.20" font-size="13.4" font-family='"DejaVu Serif", "Liberation Serif", serif' fill="#000">k<tspan font-size="8.6" dy="2.8" dx="-0.1">4</tspan></text>
<text x="506.00" y="279.20" font-size="13.7" text-anchor="middle" font-family='"Liberation Serif", "DejaVu Serif", serif' fill="#000">0</text>
<text x="444.80" y="296.30" font-size="13.7" text-anchor="middle" font-family='"Liberation Serif", "DejaVu Serif", serif' fill="#000">0</text>
<text x="476.10" y="296.30" font-size="13.7" text-anchor="middle" font-family='"Liberation Serif", "DejaVu Serif", serif' fill="#000">0</text>
<text x="506.70" y="296.30" font-size="13.7" text-anchor="middle" font-family='"Liberation Serif", "DejaVu Serif", serif' fill="#000">0</text>
<text x="21.30" y="167.60" font-size="13.8" text-anchor="start" font-family='"Liberation Sans", Arial, Helvetica, sans-serif' fill="#000">d)</text>
<g clip-path="url(#cd)">
<path d="M75.30,233.73 L91.23,233.38 L107.16,205.12 L123.09,184.87 L139.02,236.40 L154.95,236.40 L170.88,236.40" fill="none" stroke="#000" stroke-width="1.6" stroke-dasharray="5.6 2.4"/>
<circle cx="75.30" cy="233.73" r="3.6" fill="#000"/>
<circle cx="91.23" cy="233.38" r="3.6" fill="#000"/>
<circle cx="107.16" cy="205.12" r="3.6" fill="#000"/>
<circle cx="123.09" cy="184.87" r="3.6" fill="#000"/>
<circle cx="139.02" cy="236.40" r="3.6" fill="#000"/>
<circle cx="154.95" cy="236.40" r="3.6" fill="#000"/>
<circle cx="170.88" cy="236.40" r="3.6" fill="#000"/>
</g>
<rect x="75.3" y="165.3" width="95.60" height="71.10" fill="none" stroke="#333" stroke-width="0.8"/>
<rect x="126.1" y="169.4" width="4.4" height="4.4" rx="0.9" fill="#fff" stroke="#d4d4d4" stroke-width="0.7"/>
<line x1="72.30" y1="236.40" x2="75.30" y2="236.40" stroke="#222" stroke-width="0.8"/>
<text x="68.90" y="240.90" font-size="10.3" text-anchor="end" font-family='"Liberation Sans", Arial, Helvetica, sans-serif' fill="#000">0</text>
<line x1="72.30" y1="218.63" x2="75.30" y2="218.63" stroke="#222" stroke-width="0.8"/>
<text x="68.90" y="223.13" font-size="10.3" text-anchor="end" font-family='"Liberation Sans", Arial, Helvetica, sans-serif' fill="#000">100</text>
<line x1="72.30" y1="200.86" x2="75.30" y2="200.86" stroke="#222" stroke-width="0.8"/>
<text x="68.90" y="205.36" font-size="10.3" text-anchor="end" font-family='"Liberation Sans", Arial, Helvetica, sans-serif' fill="#000">200</text>
<line x1="72.30" y1="183.09" x2="75.30" y2="183.09" stroke="#222" stroke-width="0.8"/>
<text x="68.90" y="187.59" font-size="10.3" text-anchor="end" font-family='"Liberation Sans", Arial, Helvetica, sans-serif' fill="#000">300</text>
<line x1="72.30" y1="165.32" x2="75.30" y2="165.32" stroke="#222" stroke-width="0.8"/>
<text x="68.90" y="169.82" font-size="10.3" text-anchor="end" font-family='"Liberation Sans", Arial, Helvetica, sans-serif' fill="#000">400</text>
<line x1="75.30" y1="236.40" x2="75.30" y2="239.40" stroke="#222" stroke-width="0.8"/>
<text x="76.30" y="249.8" font-size="10.4" text-anchor="middle" font-family='"Liberation Sans", Arial, Helvetica, sans-serif' fill="#000"><tspan font-family='"DejaVu Sans", "Liberation Sans", sans-serif' font-style="italic" font-size="10">τ</tspan>1</text>
<line x1="91.23" y1="236.40" x2="91.23" y2="239.40" stroke="#222" stroke-width="0.8"/>
<text x="92.23" y="249.8" font-size="10.4" text-anchor="middle" font-family='"Liberation Sans", Arial, Helvetica, sans-serif' fill="#000"><tspan font-family='"DejaVu Sans", "Liberation Sans", sans-serif' font-style="italic" font-size="10">τ</tspan>2</text>
<line x1="107.16" y1="236.40" x2="107.16" y2="239.40" stroke="#222" stroke-width="0.8"/>
<text x="108.16" y="249.8" font-size="10.4" text-anchor="middle" font-family='"Liberation Sans", Arial, Helvetica, sans-serif' fill="#000"><tspan font-family='"DejaVu Sans", "Liberation Sans", sans-serif' font-style="italic" font-size="10">τ</tspan>3</text>
<line x1="123.09" y1="236.40" x2="123.09" y2="239.40" stroke="#222" stroke-width="0.8"/>
<text x="124.09" y="249.8" font-size="10.4" text-anchor="middle" font-family='"Liberation Sans", Arial, Helvetica, sans-serif' fill="#000"><tspan font-family='"DejaVu Sans", "Liberation Sans", sans-serif' font-style="italic" font-size="10">τ</tspan>4</text>
<line x1="139.02" y1="236.40" x2="139.02" y2="239.40" stroke="#222" stroke-width="0.8"/>
<text x="140.02" y="249.8" font-size="10.4" text-anchor="middle" font-family='"Liberation Sans", Arial, Helvetica, sans-serif' fill="#000"><tspan font-family='"DejaVu Sans", "Liberation Sans", sans-serif' font-style="italic" font-size="10">τ</tspan>5</text>
<line x1="154.95" y1="236.40" x2="154.95" y2="239.40" stroke="#222" stroke-width="0.8"/>
<text x="155.95" y="249.8" font-size="10.4" text-anchor="middle" font-family='"Liberation Sans", Arial, Helvetica, sans-serif' fill="#000"><tspan font-family='"DejaVu Sans", "Liberation Sans", sans-serif' font-style="italic" font-size="10">τ</tspan>6</text>
<line x1="170.88" y1="236.40" x2="170.88" y2="239.40" stroke="#222" stroke-width="0.8"/>
<text x="171.88" y="249.8" font-size="10.4" text-anchor="middle" font-family='"Liberation Sans", Arial, Helvetica, sans-serif' fill="#000"><tspan font-family='"DejaVu Sans", "Liberation Sans", sans-serif' font-style="italic" font-size="10">τ</tspan>7</text>
<text x="123.10" y="262.70" font-size="9.9" text-anchor="middle" font-family='"Liberation Sans", Arial, Helvetica, sans-serif' fill="#000">tau</text>
<text x="47.30" y="201.10" font-size="10.4" text-anchor="middle" font-family='"Liberation Sans", Arial, Helvetica, sans-serif' fill="#000" transform="rotate(-90 47.30 201.10)">tau value</text>
<text x="21.30" y="278.60" font-size="13.8" text-anchor="start" font-family='"Liberation Sans", Arial, Helvetica, sans-serif' fill="#000">e)</text>
<rect x="71.8" y="270.3" width="101.80" height="75.70" fill="none" stroke="#222" stroke-width="0.8"/>
<g clip-path="url(#ce)" fill="none" stroke-width="2" stroke-linejoin="round">
<path d="M71.8,346.0 L72.6,346.0 L73.4,346.0 L74.2,346.0 L75.0,346.0 L75.8,346.0 L76.6,346.0 L77.3,346.0 L78.1,346.0 L78.9,346.0 L79.7,346.0 L80.5,346.0 L81.3,345.9 L82.1,346.0 L82.9,346.0 L83.7,346.0 L84.5,346.0 L85.3,346.0 L86.1,346.0 L86.8,346.0 L87.6,346.0 L88.4,346.0 L89.2,346.0 L90.0,346.0 L90.8,346.0 L91.6,346.0 L92.4,346.0 L93.2,346.0 L94.0,346.0 L94.8,346.0 L95.6,346.0 L96.4,346.0 L97.1,346.0 L97.9,346.0 L98.7,346.0 L99.5,346.0 L100.3,346.0 L101.1,345.9 L101.9,346.0 L102.7,346.0 L103.5,346.0 L104.3,346.0 L105.1,346.0 L105.9,345.8 L106.6,344.5 L107.4,342.5 L108.2,338.0 L109.0,333.7 L109.8,330.1 L110.6,330.4 L111.4,334.0 L112.2,339.2 L113.0,342.7 L113.8,345.3 L114.6,345.8 L115.4,346.0 L116.2,346.0 L116.9,346.0 L117.7,346.0 L118.5,346.0 L119.3,346.0 L120.1,346.0 L120.9,346.0 L121.7,346.0 L122.5,346.0 L123.3,346.0 L124.1,346.0 L124.9,346.0 L125.7,346.0 L126.4,346.0 L127.2,345.9 L128.0,346.0 L128.8,346.0 L129.6,346.0 L130.4,346.0 L131.2,346.0 L132.0,346.0 L132.8,346.0 L133.6,346.0 L134.4,345.9 L135.2,346.0 L136.0,346.0 L136.7,346.0 L137.5,346.0 L138.3,346.0 L139.1,346.0 L139.9,346.0 L140.7,346.0 L141.5,346.0 L142.3,346.0 L143.1,346.0 L143.9,346.0 L144.7,346.0 L145.5,346.0 L146.2,346.0 L147.0,346.0 L147.8,345.7 L148.6,344.9 L149.4,343.9 L150.2,342.3 L151.0,340.5 L151.8,337.4 L152.6,334.0 L153.4,330.4 L154.2,326.8 L155.0,323.8 L155.8,322.5 L156.5,321.0 L157.3,320.8 L158.1,322.1 L158.9,322.8 L159.7,324.2 L160.5,326.7 L161.3,328.0 L162.1,329.3 L162.9,330.2 L163.7,330.0 L164.5,329.7 L165.3,328.9 L166.0,328.4 L166.8,327.7 L167.6,326.1 L168.4,324.6 L169.2,324.1 L170.0,323.3 L170.8,322.2 L171.6,323.7 L172.4,324.6 L173.2,326.0" stroke="#ff0000"/>
<path d="M71.8,346.0 L72.6,345.4 L73.4,343.9 L74.2,342.8 L75.0,341.0 L75.8,339.0 L76.6,335.5 L77.3,329.6 L78.1,322.8 L78.9,315.6 L79.7,308.9 L80.5,300.8 L81.3,293.4 L82.1,288.9 L82.9,284.3 L83.7,284.1 L84.5,283.6 L85.3,285.8 L86.1,288.3 L86.8,293.2 L87.6,298.1 L88.4,303.4 L89.2,311.0 L90.0,315.2 L90.8,320.8 L91.6,324.0 L92.4,327.1 L93.2,330.9 L94.0,333.6 L94.8,336.1 L95.6,337.2 L96.4,337.8 L97.1,337.6 L97.9,338.2 L98.7,339.8 L99.5,338.1 L100.3,336.5 L101.1,334.3 L101.9,329.5 L102.7,326.1 L103.5,320.1 L104.3,315.2 L105.1,311.3 L105.9,308.2 L106.6,309.3 L107.4,311.8 L108.2,313.9 L109.0,317.5 L109.8,321.5 L110.6,327.6 L111.4,333.3 L112.2,335.8 L113.0,338.2 L113.8,341.0 L114.6,342.5 L115.4,343.1 L116.2,341.9 L116.9,340.3 L117.7,341.0 L118.5,342.3 L119.3,342.9 L120.1,343.9 L120.9,342.8 L121.7,342.1 L122.5,341.2 L123.3,339.2 L124.1,338.4 L124.9,337.7 L125.7,336.4 L126.4,333.0 L127.2,331.5 L128.0,331.2 L128.8,328.9 L129.6,328.2 L130.4,325.9 L131.2,325.0 L132.0,324.7 L132.8,323.3 L133.6,321.4 L134.4,320.8 L135.2,320.6 L136.0,319.4 L136.7,318.8 L137.5,319.2 L138.3,319.5 L139.1,318.0 L139.9,318.7 L140.7,319.7 L141.5,321.2 L142.3,321.9 L143.1,322.2 L143.9,320.8 L144.7,321.3 L145.5,321.6 L146.2,322.6 L147.0,323.2 L147.8,323.3 L148.6,324.3 L149.4,324.6 L150.2,324.7 L151.0,325.9 L151.8,327.0 L152.6,326.6 L153.4,328.1 L154.2,328.4 L155.0,328.3 L155.8,330.2 L156.5,332.2 L157.3,333.6 L158.1,334.3 L158.9,336.6 L159.7,338.3 L160.5,338.9 L161.3,340.1 L162.1,342.2 L162.9,342.2 L163.7,343.5 L164.5,344.2 L165.3,344.8 L166.0,344.7 L166.8,345.3 L167.6,345.5 L168.4,345.6 L169.2,345.7 L170.0,345.8 L170.8,345.9 L171.6,346.0 L172.4,346.0 L173.2,346.0" stroke="#800080"/>
<path d="M71.8,319.0 L72.6,316.4 L73.4,312.4 L74.2,307.4 L75.0,302.3 L75.8,297.7 L76.6,291.9 L77.3,288.6 L78.1,287.2 L78.9,285.0 L79.7,284.9 L80.5,283.7 L81.3,285.1 L82.1,285.2 L82.9,287.6 L83.7,289.0 L84.5,293.2 L85.3,298.1 L86.1,302.7 L86.8,306.6 L87.6,312.3 L88.4,316.2 L89.2,320.3 L90.0,323.5 L90.8,327.3 L91.6,328.3 L92.4,329.9 L93.2,331.7 L94.0,333.6 L94.8,335.3 L95.6,334.3 L96.4,334.1 L97.1,334.3 L97.9,334.1 L98.7,332.3 L99.5,330.8 L100.3,328.3 L101.1,325.6 L101.9,324.1 L102.7,323.2 L103.5,322.2 L104.3,321.5 L105.1,321.3 L105.9,321.1 L106.6,322.2 L107.4,320.5 L108.2,319.2 L109.0,317.7 L109.8,316.8 L110.6,316.4 L111.4,315.9 L112.2,317.4 L113.0,318.4 L113.8,321.0 L114.6,322.2 L115.4,324.2 L116.2,325.6 L116.9,326.9 L117.7,327.5 L118.5,329.2 L119.3,330.2 L120.1,331.7 L120.9,332.1 L121.7,332.5 L122.5,333.6 L123.3,333.5 L124.1,333.2 L124.9,333.9 L125.7,334.0 L126.4,333.6 L127.2,333.0 L128.0,331.0 L128.8,330.0 L129.6,328.6 L130.4,327.0 L131.2,326.1 L132.0,325.3 L132.8,323.8 L133.6,322.9 L134.4,321.2 L135.2,320.0 L136.0,318.6 L136.7,315.7 L137.5,315.3 L138.3,313.2 L139.1,311.4 L139.9,311.0 L140.7,310.3 L141.5,310.4 L142.3,308.7 L143.1,308.2 L143.9,309.9 L144.7,312.2 L145.5,312.9 L146.2,313.4 L147.0,315.8 L147.8,317.0 L148.6,318.2 L149.4,319.1 L150.2,321.6 L151.0,323.5 L151.8,324.8 L152.6,325.8 L153.4,327.6 L154.2,330.3 L155.0,332.2 L155.8,333.1 L156.5,334.7 L157.3,335.9 L158.1,337.7 L158.9,339.4 L159.7,340.3 L160.5,340.9 L161.3,343.1 L162.1,342.8 L162.9,343.0 L163.7,343.9 L164.5,343.1 L165.3,344.6 L166.0,345.4 L166.8,345.3 L167.6,345.4 L168.4,345.5 L169.2,345.6 L170.0,345.7 L170.8,345.8 L171.6,346.0 L172.4,346.0 L173.2,346.0" stroke="#008000"/>
</g>
<line x1="71.80" y1="346.00" x2="173.60" y2="346.00" stroke="#222" stroke-width="0.8" opacity="0.55"/>
<line x1="68.80" y1="346.00" x2="71.80" y2="346.00" stroke="#222" stroke-width="0.8"/>
<text x="65.60" y="349.80" font-size="10.7" text-anchor="end" font-family='"Liberation Sans", Arial, Helvetica, sans-serif' fill="#000">0.0</text>
<line x1="68.80" y1="311.65" x2="71.80" y2="311.65" stroke="#222" stroke-width="0.8"/>
<text x="65.60" y="315.45" font-size="10.7" text-anchor="end" font-family='"Liberation Sans", Arial, Helvetica, sans-serif' fill="#000">0.5</text>
<line x1="68.80" y1="277.30" x2="71.80" y2="277.30" stroke="#222" stroke-width="0.8"/>
<text x="65.60" y="281.10" font-size="10.7" text-anchor="end" font-family='"Liberation Sans", Arial, Helvetica, sans-serif' fill="#000">1.0</text>
<line x1="71.80" y1="346.00" x2="71.80" y2="349.00" stroke="#222" stroke-width="0.8"/>
<text x="71.80" y="360.00" font-size="10.3" text-anchor="middle" font-family='"Liberation Sans", Arial, Helvetica, sans-serif' fill="#000">0</text>
<line x1="111.40" y1="346.00" x2="111.40" y2="349.00" stroke="#222" stroke-width="0.8"/>
<text x="111.40" y="360.00" font-size="10.3" text-anchor="middle" font-family='"Liberation Sans", Arial, Helvetica, sans-serif' fill="#000">100</text>
<line x1="151.00" y1="346.00" x2="151.00" y2="349.00" stroke="#222" stroke-width="0.8"/>
<text x="151.00" y="360.00" font-size="10.3" text-anchor="middle" font-family='"Liberation Sans", Arial, Helvetica, sans-serif' fill="#000">200</text>
<text x="122.50" y="372.80" font-size="10.7" text-anchor="middle" font-family='"Liberation Sans", Arial, Helvetica, sans-serif' fill="#000">wl (unit)</text>
<text x="45.30" y="309.00" font-size="10.6" text-anchor="middle" font-family='"Liberation Sans", Arial, Helvetica, sans-serif' fill="#000" transform="rotate(-90 45.30 309.00)">intensity</text>
<rect x="112.0" y="272.2" width="58.4" height="34.1" rx="1.5" fill="#fff" fill-opacity="0.8" stroke="#ccc" stroke-width="0.8"/>
<line x1="114.00" y1="278.10" x2="130.60" y2="278.10" stroke="#ff0000" stroke-width="1.8"/>
<text x="135.70" y="280.90" font-size="7.4" text-anchor="start" font-family='"DejaVu Sans", "Liberation Sans", sans-serif' fill="#000">predic. A</text>
<line x1="114.00" y1="288.85" x2="130.60" y2="288.85" stroke="#800080" stroke-width="1.8"/>
<text x="135.70" y="291.65" font-size="7.4" text-anchor="start" font-family='"DejaVu Sans", "Liberation Sans", sans-serif' fill="#000">predic. B</text>
<line x1="114.00" y1="299.60" x2="130.60" y2="299.60" stroke="#008000" stroke-width="1.8"/>
<text x="135.70" y="302.40" font-size="7.4" text-anchor="start" font-family='"DejaVu Sans", "Liberation Sans", sans-serif' fill="#000">predic. C</text>
<text x="516.80" y="372.20" font-size="12.2" text-anchor="end" font-weight="bold" font-family='"Liberation Sans", Arial, Helvetica, sans-serif' fill="#000">Expectation vs prediction</text>
<rect x="0.4" y="379.8" width="526.2" height="138.15" fill="none" stroke="#203864" stroke-width="1.4"/>
<text x="14.50" y="394.20" font-size="13.8" text-anchor="start" font-family='"Liberation Sans", Arial, Helvetica, sans-serif' fill="#000">f)</text>
<text x="69.30" y="396.60" font-size="11.5" text-anchor="middle" font-weight="bold" font-family='"Liberation Sans", Arial, Helvetica, sans-serif' fill="#000">expected</text>
<text x="191.80" y="395.40" font-size="11.5" text-anchor="middle" font-weight="bold" font-family='"Liberation Sans", Arial, Helvetica, sans-serif' fill="#000">prediction</text>
<line x1="64.80" y1="421.60" x2="53.60" y2="443.60" stroke="#000" stroke-width="0.8"/>
<polygon points="53.60,443.60 54.56,435.11 59.90,437.83" fill="#000"/>
<line x1="79.80" y1="421.60" x2="90.40" y2="443.60" stroke="#000" stroke-width="0.8"/>
<polygon points="90.40,443.60 84.22,437.70 89.63,435.09" fill="#000"/>
<line x1="53.00" y1="463.60" x2="70.30" y2="491.40" stroke="#000" stroke-width="0.8"/>
<polygon points="70.30,491.40 63.53,486.19 68.62,483.02" fill="#000"/>
<line x1="90.20" y1="463.50" x2="73.30" y2="491.40" stroke="#000" stroke-width="0.8"/>
<polygon points="73.30,491.40 74.88,483.00 80.01,486.11" fill="#000"/>
<circle cx="72.20" cy="413.60" r="9.8" fill="#4472c4" stroke="#000" stroke-width="1.9"/>
<text x="72.20" y="418.80" font-size="14.5" text-anchor="middle" font-family='"Liberation Sans", Arial, Helvetica, sans-serif' fill="#fff">A</text>
<circle cx="52.40" cy="453.60" r="9.8" fill="#4472c4" stroke="#000" stroke-width="1.9"/>
<text x="52.40" y="458.80" font-size="14.5" text-anchor="middle" font-family='"Liberation Sans", Arial, Helvetica, sans-serif' fill="#fff">B</text>
<circle cx="90.90" cy="453.60" r="9.8" fill="#4472c4" stroke="#000" stroke-width="1.9"/>
<text x="90.90" y="458.80" font-size="14.5" text-anchor="middle" font-family='"Liberation Sans", Arial, Helvetica, sans-serif' fill="#fff">C</text>
<rect x="52.30" y="491.60" width="39.70" height="20.00" rx="3.2" fill="#bfbfbf" stroke="#000" stroke-width="1.9"/>
<text x="72.15" y="506.70" font-size="14.2" text-anchor="middle" font-family='"Liberation Sans", Arial, Helvetica, sans-serif' fill="#fafafa">GS</text>
<text x="59.60" y="429.60" font-size="12.2" text-anchor="end" font-family='"Liberation Sans", Arial, Helvetica, sans-serif' fill="#000">15 ns</text>
<text x="90.40" y="432.10" font-size="12.2" text-anchor="start" font-family='"Liberation Sans", Arial, Helvetica, sans-serif' fill="#000">19 ns</text>
<text x="60.20" y="483.90" font-size="12.2" text-anchor="end" font-family='"Liberation Sans", Arial, Helvetica, sans-serif' fill="#000">192 ns</text>
<text x="88.40" y="483.90" font-size="12.2" text-anchor="start" font-family='"Liberation Sans", Arial, Helvetica, sans-serif' fill="#000">300 ns</text>
<line x1="181.70" y1="422.20" x2="170.50" y2="444.20" stroke="#000" stroke-width="0.8"/>
<polygon points="170.50,444.20 171.46,435.71 176.80,438.43" fill="#000"/>
<line x1="196.70" y1="422.20" x2="207.30" y2="444.20" stroke="#000" stroke-width="0.8"/>
<polygon points="207.30,444.20 201.12,438.30 206.53,435.69" fill="#000"/>
<line x1="169.90" y1="464.20" x2="187.20" y2="492.00" stroke="#000" stroke-width="0.8"/>
<polygon points="187.20,492.00 180.43,486.79 185.52,483.62" fill="#000"/>
<line x1="207.10" y1="464.10" x2="190.20" y2="492.00" stroke="#000" stroke-width="0.8"/>
<polygon points="190.20,492.00 191.78,483.60 196.91,486.71" fill="#000"/>
<circle cx="189.10" cy="414.20" r="9.8" fill="#4472c4" stroke="#000" stroke-width="1.9"/>
<text x="189.10" y="419.40" font-size="14.5" text-anchor="middle" font-family='"Liberation Sans", Arial, Helvetica, sans-serif' fill="#fff">A</text>
<circle cx="169.30" cy="454.20" r="9.8" fill="#4472c4" stroke="#000" stroke-width="1.9"/>
<text x="169.30" y="459.40" font-size="14.5" text-anchor="middle" font-family='"Liberation Sans", Arial, Helvetica, sans-serif' fill="#fff">B</text>
<circle cx="207.80" cy="454.20" r="9.8" fill="#4472c4" stroke="#000" stroke-width="1.9"/>
<text x="207.80" y="459.40" font-size="14.5" text-anchor="middle" font-family='"Liberation Sans", Arial, Helvetica, sans-serif' fill="#fff">C</text>
<rect x="169.20" y="492.20" width="39.70" height="20.00" rx="3.2" fill="#bfbfbf" stroke="#000" stroke-width="1.9"/>
<text x="189.05" y="507.30" font-size="14.2" text-anchor="middle" font-family='"Liberation Sans", Arial, Helvetica, sans-serif' fill="#fafafa">GS</text>
<text x="177.40" y="430.70" font-size="12.2" text-anchor="end" font-family='"Liberation Sans", Arial, Helvetica, sans-serif' fill="#000">15.2 ns</text>
<text x="207.10" y="430.70" font-size="12.2" text-anchor="start" font-family='"Liberation Sans", Arial, Helvetica, sans-serif' fill="#000">18 ns</text>
<text x="177.40" y="484.60" font-size="12.2" text-anchor="end" font-family='"Liberation Sans", Arial, Helvetica, sans-serif' fill="#000">184 ns</text>
<text x="205.20" y="484.60" font-size="12.2" text-anchor="start" font-family='"Liberation Sans", Arial, Helvetica, sans-serif' fill="#000">290 ns</text>
<text x="260.90" y="396.50" font-size="13.8" text-anchor="start" font-family='"Liberation Sans", Arial, Helvetica, sans-serif' fill="#000">g)</text>
<rect x="315.4" y="393.3" width="117.00" height="88.00" fill="none" stroke="#222" stroke-width="0.9"/>
<g clip-path="url(#cg)" fill="none" stroke-width="2" stroke-linejoin="round">
<path d="M315.4,481.3 L316.3,481.3 L317.2,481.3 L318.1,481.3 L319.1,481.3 L320.0,481.3 L320.9,481.3 L321.8,481.3 L322.7,481.3 L323.6,481.3 L324.5,481.3 L325.5,481.3 L326.4,481.2 L327.3,481.3 L328.2,481.3 L329.1,481.3 L330.0,481.3 L330.9,481.3 L331.9,481.3 L332.8,481.3 L333.7,481.3 L334.6,481.3 L335.5,481.3 L336.4,481.3 L337.3,481.3 L338.3,481.3 L339.2,481.3 L340.1,481.3 L341.0,481.3 L341.9,481.3 L342.8,481.3 L343.7,481.3 L344.7,481.3 L345.6,481.3 L346.5,481.3 L347.4,481.3 L348.3,481.3 L349.2,481.2 L350.1,481.2 L351.1,481.3 L352.0,481.3 L352.9,481.3 L353.8,481.3 L354.7,481.0 L355.6,479.5 L356.5,477.3 L357.5,471.9 L358.4,466.9 L359.3,462.8 L360.2,463.1 L361.1,467.3 L362.0,473.4 L362.9,477.4 L363.9,480.5 L364.8,481.1 L365.7,481.3 L366.6,481.3 L367.5,481.3 L368.4,481.3 L369.3,481.3 L370.3,481.3 L371.2,481.3 L372.1,481.3 L373.0,481.3 L373.9,481.3 L374.8,481.3 L375.8,481.3 L376.7,481.3 L377.6,481.3 L378.5,481.3 L379.4,481.2 L380.3,481.3 L381.2,481.3 L382.2,481.3 L383.1,481.3 L384.0,481.3 L384.9,481.3 L385.8,481.3 L386.7,481.3 L387.6,481.2 L388.6,481.2 L389.5,481.3 L390.4,481.3 L391.3,481.3 L392.2,481.3 L393.1,481.3 L394.0,481.3 L395.0,481.3 L395.9,481.3 L396.8,481.3 L397.7,481.3 L398.6,481.3 L399.5,481.3 L400.4,481.3 L401.4,481.3 L402.3,481.3 L403.2,480.9 L404.1,480.1 L405.0,478.9 L405.9,477.0 L406.8,474.9 L407.8,471.3 L408.7,467.4 L409.6,463.1 L410.5,458.9 L411.4,455.4 L412.3,453.9 L413.2,452.2 L414.2,451.9 L415.1,453.4 L416.0,454.2 L416.9,455.9 L417.8,458.8 L418.7,460.3 L419.6,461.8 L420.6,462.9 L421.5,462.7 L422.4,462.3 L423.3,461.4 L424.2,460.7 L425.1,460.0 L426.0,458.1 L427.0,456.3 L427.9,455.7 L428.8,454.8 L429.7,453.6 L430.6,455.3 L431.5,456.3 L432.4,458.0" stroke="#ff0000"/>
<path d="M315.4,481.3 L316.3,481.3 L317.2,481.3 L318.1,481.3 L319.1,481.3 L320.0,481.3 L320.9,481.3 L321.8,481.3 L322.7,481.3 L323.6,481.3 L324.5,481.3 L325.5,481.3 L326.4,481.3 L327.3,481.3 L328.2,481.3 L329.1,481.3 L330.0,481.3 L330.9,481.3 L331.9,481.3 L332.8,481.3 L333.7,481.3 L334.6,481.3 L335.5,481.3 L336.4,481.3 L337.3,481.3 L338.3,481.3 L339.2,481.3 L340.1,481.3 L341.0,481.3 L341.9,481.3 L342.8,481.3 L343.7,481.3 L344.7,481.3 L345.6,481.3 L346.5,481.3 L347.4,481.3 L348.3,481.3 L349.2,481.3 L350.1,481.3 L351.1,481.3 L352.0,481.3 L352.9,481.3 L353.8,481.3 L354.7,480.9 L355.6,479.5 L356.5,476.7 L357.5,472.2 L358.4,467.1 L359.3,463.4 L360.2,463.6 L361.1,467.9 L362.0,473.6 L362.9,478.0 L363.9,480.3 L364.8,481.0 L365.7,481.3 L366.6,481.3 L367.5,481.3 L368.4,481.3 L369.3,481.3 L370.3,481.3 L371.2,481.3 L372.1,481.3 L373.0,481.3 L373.9,481.3 L374.8,481.3 L375.8,481.3 L376.7,481.3 L377.6,481.3 L378.5,481.3 L379.4,481.3 L380.3,481.3 L381.2,481.3 L382.2,481.3 L383.1,481.3 L384.0,481.3 L384.9,481.3 L385.8,481.3 L386.7,481.3 L387.6,481.3 L388.6,481.3 L389.5,481.3 L390.4,481.3 L391.3,481.3 L392.2,481.3 L393.1,481.3 L394.0,481.3 L395.0,481.3 L395.9,481.3 L396.8,481.3 L397.7,481.3 L398.6,481.3 L399.5,481.3 L400.4,481.3 L401.4,481.3 L402.3,481.3 L403.2,480.9 L404.1,480.1 L405.0,479.0 L405.9,477.2 L406.8,474.8 L407.8,471.4 L408.7,467.3 L409.6,463.2 L410.5,459.1 L411.4,455.8 L412.3,453.5 L413.2,452.1 L414.2,451.9 L415.1,452.8 L416.0,454.2 L416.9,456.2 L417.8,458.6 L418.7,460.4 L419.6,461.8 L420.6,462.4 L421.5,462.4 L422.4,462.2 L423.3,461.8 L424.2,460.9 L425.1,459.6 L426.0,458.0 L427.0,456.4 L427.9,455.2 L428.8,454.5 L429.7,454.2 L430.6,455.0 L431.5,456.2 L432.4,457.0" stroke="#ff0000" stroke-dasharray="7.4 3.2"/>
<path d="M315.4,481.3 L316.3,480.6 L317.2,478.9 L318.1,477.6 L319.1,475.5 L320.0,473.2 L320.9,469.0 L321.8,462.2 L322.7,454.3 L323.6,445.8 L324.5,438.0 L325.5,428.6 L326.4,419.9 L327.3,414.7 L328.2,409.4 L329.1,409.1 L330.0,408.5 L330.9,411.2 L331.9,414.1 L332.8,419.7 L333.7,425.4 L334.6,431.7 L335.5,440.5 L336.4,445.4 L337.3,451.9 L338.3,455.6 L339.2,459.3 L340.1,463.7 L341.0,466.8 L341.9,469.7 L342.8,471.0 L343.7,471.7 L344.7,471.5 L345.6,472.2 L346.5,474.0 L347.4,472.1 L348.3,470.2 L349.2,467.7 L350.1,462.1 L351.1,458.1 L352.0,451.1 L352.9,445.4 L353.8,440.9 L354.7,437.2 L355.6,438.5 L356.5,441.4 L357.5,443.9 L358.4,448.0 L359.3,452.7 L360.2,459.8 L361.1,466.4 L362.0,469.4 L362.9,472.3 L363.9,475.5 L364.8,477.2 L365.7,477.9 L366.6,476.5 L367.5,474.7 L368.4,475.5 L369.3,477.0 L370.3,477.7 L371.2,478.9 L372.1,477.5 L373.0,476.7 L373.9,475.6 L374.8,473.4 L375.8,472.5 L376.7,471.6 L377.6,470.1 L378.5,466.2 L379.4,464.4 L380.3,464.1 L381.2,461.4 L382.2,460.5 L383.1,457.9 L384.0,456.8 L384.9,456.5 L385.8,454.9 L386.7,452.6 L387.6,451.9 L388.6,451.6 L389.5,450.2 L390.4,449.6 L391.3,450.0 L392.2,450.4 L393.1,448.6 L394.0,449.5 L395.0,450.6 L395.9,452.4 L396.8,453.2 L397.7,453.5 L398.6,451.9 L399.5,452.5 L400.4,452.9 L401.4,454.1 L402.3,454.7 L403.2,454.9 L404.1,456.0 L405.0,456.4 L405.9,456.5 L406.8,457.8 L407.8,459.1 L408.7,458.6 L409.6,460.5 L410.5,460.8 L411.4,460.6 L412.3,462.9 L413.2,465.2 L414.2,466.8 L415.1,467.7 L416.0,470.4 L416.9,472.3 L417.8,473.0 L418.7,474.4 L419.6,476.9 L420.6,476.8 L421.5,478.4 L422.4,479.2 L423.3,479.9 L424.2,479.8 L425.1,480.5 L426.0,480.7 L427.0,480.8 L427.9,481.0 L428.8,481.0 L429.7,481.2 L430.6,481.3 L431.5,481.3 L432.4,481.3" stroke="#800080"/>
<path d="M315.4,480.2 L316.3,479.0 L317.2,477.3 L318.1,475.0 L319.1,471.5 L320.0,466.5 L320.9,460.2 L321.8,452.7 L322.7,444.4 L323.6,436.0 L324.5,428.1 L325.5,421.6 L326.4,416.9 L327.3,414.0 L328.2,412.9 L329.1,413.2 L330.0,414.8 L330.9,417.9 L331.9,422.8 L332.8,428.7 L333.7,435.2 L334.6,441.5 L335.5,447.2 L336.4,452.2 L337.3,456.8 L338.3,460.8 L339.2,464.1 L340.1,466.8 L341.0,468.8 L341.9,470.3 L342.8,471.4 L343.7,472.1 L344.7,472.4 L345.6,472.3 L346.5,471.4 L347.4,469.3 L348.3,465.7 L349.2,460.9 L350.1,455.3 L351.1,449.6 L352.0,444.4 L352.9,440.7 L353.8,439.1 L354.7,439.4 L355.6,441.5 L356.5,445.1 L357.5,449.7 L358.4,455.0 L359.3,460.7 L360.2,465.8 L361.1,469.9 L362.0,473.1 L362.9,475.4 L363.9,476.9 L364.8,477.2 L365.7,476.5 L366.6,475.8 L367.5,476.1 L368.4,477.0 L369.3,477.5 L370.3,477.3 L371.2,476.6 L372.1,475.5 L373.0,474.3 L373.9,473.0 L374.8,471.7 L375.8,470.3 L376.7,468.6 L377.6,466.8 L378.5,465.0 L379.4,463.3 L380.3,461.7 L381.2,460.1 L382.2,458.5 L383.1,457.0 L384.0,455.8 L384.9,454.7 L385.8,453.8 L386.7,453.2 L387.6,452.6 L388.6,452.3 L389.5,452.3 L390.4,452.6 L391.3,453.0 L392.2,453.5 L393.1,453.9 L394.0,454.4 L395.0,454.6 L395.9,454.6 L396.8,454.3 L397.7,454.0 L398.6,453.7 L399.5,453.7 L400.4,454.0 L401.4,454.5 L402.3,454.9 L403.2,455.2 L404.1,455.4 L405.0,455.6 L405.9,456.1 L406.8,456.8 L407.8,457.8 L408.7,458.7 L409.6,459.6 L410.5,460.8 L411.4,462.4 L412.3,464.3 L413.2,466.3 L414.2,468.3 L415.1,470.3 L416.0,472.0 L416.9,473.6 L417.8,475.0 L418.7,476.3 L419.6,477.5 L420.6,478.6 L421.5,479.4 L422.4,479.9 L423.3,480.3 L424.2,480.5 L425.1,480.7 L426.0,480.8 L427.0,481.0 L427.9,481.1 L428.8,481.2 L429.7,481.2 L430.6,481.3 L431.5,481.3 L432.4,481.3" stroke="#800080" stroke-dasharray="7.4 3.2"/>
<path d="M315.4,449.8 L316.3,446.8 L317.2,442.1 L318.1,436.3 L319.1,430.4 L320.0,425.0 L320.9,418.2 L321.8,414.4 L322.7,412.8 L323.6,410.2 L324.5,410.1 L325.5,408.6 L326.4,410.3 L327.3,410.5 L328.2,413.2 L329.1,414.9 L330.0,419.8 L330.9,425.5 L331.9,430.8 L332.8,435.3 L333.7,442.0 L334.6,446.6 L335.5,451.3 L336.4,455.1 L337.3,459.4 L338.3,460.6 L339.2,462.5 L340.1,464.6 L341.0,466.9 L341.9,468.8 L342.8,467.7 L343.7,467.4 L344.7,467.7 L345.6,467.5 L346.5,465.3 L347.4,463.5 L348.3,460.6 L349.2,457.6 L350.1,455.7 L351.1,454.7 L352.0,453.6 L352.9,452.7 L353.8,452.5 L354.7,452.2 L355.6,453.6 L356.5,451.6 L357.5,450.1 L358.4,448.3 L359.3,447.3 L360.2,446.8 L361.1,446.2 L362.0,448.0 L362.9,449.1 L363.9,452.2 L364.8,453.6 L365.7,455.9 L366.6,457.5 L367.5,459.0 L368.4,459.7 L369.3,461.7 L370.3,462.8 L371.2,464.6 L372.1,465.1 L373.0,465.6 L373.9,466.9 L374.8,466.7 L375.8,466.4 L376.7,467.2 L377.6,467.3 L378.5,466.8 L379.4,466.1 L380.3,463.8 L381.2,462.7 L382.2,461.0 L383.1,459.1 L384.0,458.2 L384.9,457.2 L385.8,455.5 L386.7,454.4 L387.6,452.4 L388.6,451.0 L389.5,449.4 L390.4,446.0 L391.3,445.5 L392.2,443.1 L393.1,440.9 L394.0,440.5 L395.0,439.7 L395.9,439.8 L396.8,437.9 L397.7,437.2 L398.6,439.3 L399.5,441.9 L400.4,442.7 L401.4,443.3 L402.3,446.0 L403.2,447.5 L404.1,448.9 L405.0,449.9 L405.9,452.8 L406.8,455.1 L407.8,456.6 L408.7,457.8 L409.6,459.9 L410.5,463.0 L411.4,465.2 L412.3,466.3 L413.2,468.1 L414.2,469.5 L415.1,471.6 L416.0,473.6 L416.9,474.7 L417.8,475.3 L418.7,477.9 L419.6,477.6 L420.6,477.8 L421.5,478.8 L422.4,477.9 L423.3,479.7 L424.2,480.6 L425.1,480.5 L426.0,480.6 L427.0,480.8 L427.9,480.9 L428.8,481.0 L429.7,481.1 L430.6,481.3 L431.5,481.3 L432.4,481.3" stroke="#008000"/>
<path d="M315.4,446.1 L316.3,441.4 L317.2,435.6 L318.1,429.1 L319.1,422.5 L320.0,416.2 L320.9,410.7 L321.8,406.4 L322.7,403.5 L323.6,402.0 L324.5,401.7 L325.5,402.5 L326.4,404.1 L327.3,406.9 L328.2,410.7 L329.1,415.4 L330.0,420.8 L330.9,426.8 L331.9,432.9 L332.8,438.9 L333.7,444.2 L334.6,449.0 L335.5,453.2 L336.4,457.0 L337.3,460.2 L338.3,462.7 L339.2,464.7 L340.1,466.2 L341.0,467.2 L341.9,467.8 L342.8,467.9 L343.7,467.7 L344.7,467.1 L345.6,465.9 L346.5,464.0 L347.4,461.7 L348.3,459.2 L349.2,457.0 L350.1,455.1 L351.1,453.8 L352.0,453.1 L352.9,452.7 L353.8,452.3 L354.7,451.7 L355.6,450.9 L356.5,449.8 L357.5,448.7 L358.4,447.8 L359.3,447.3 L360.2,447.3 L361.1,448.0 L362.0,449.5 L362.9,451.3 L363.9,453.3 L364.8,455.1 L365.7,456.9 L366.6,458.5 L367.5,460.0 L368.4,461.3 L369.3,462.5 L370.3,463.6 L371.2,464.6 L372.1,465.4 L373.0,466.1 L373.9,466.7 L374.8,467.0 L375.8,467.1 L376.7,467.0 L377.6,466.4 L378.5,465.5 L379.4,464.4 L380.3,463.1 L381.2,461.6 L382.2,460.1 L383.1,458.5 L384.0,457.1 L384.9,455.8 L385.8,454.4 L386.7,452.8 L387.6,451.0 L388.6,449.1 L389.5,447.0 L390.4,444.8 L391.3,442.5 L392.2,440.4 L393.1,438.8 L394.0,437.6 L395.0,436.8 L395.9,436.5 L396.8,436.7 L397.7,437.5 L398.6,438.8 L399.5,440.5 L400.4,442.4 L401.4,444.3 L402.3,446.3 L403.2,448.4 L404.1,450.4 L405.0,452.4 L405.9,454.3 L406.8,456.3 L407.8,458.2 L408.7,460.3 L409.6,462.5 L410.5,464.6 L411.4,466.5 L412.3,468.1 L413.2,469.7 L414.2,471.3 L415.1,472.9 L416.0,474.3 L416.9,475.5 L417.8,476.6 L418.7,477.5 L419.6,478.3 L420.6,478.9 L421.5,479.4 L422.4,479.8 L423.3,480.1 L424.2,480.4 L425.1,480.6 L426.0,480.8 L427.0,480.9 L427.9,481.0 L428.8,481.1 L429.7,481.2 L430.6,481.2 L431.5,481.3 L432.4,481.3" stroke="#008000" stroke-dasharray="7.4 3.2"/>
</g>
<line x1="315.40" y1="481.30" x2="432.40" y2="481.30" stroke="#222" stroke-width="0.9" opacity="0.55"/>
<line x1="311.50" y1="481.30" x2="315.40" y2="481.30" stroke="#222" stroke-width="0.9"/>
<text x="307.50" y="485.80" font-size="12.4" text-anchor="end" font-family='"Liberation Sans", Arial, Helvetica, sans-serif' fill="#000">0.0</text>
<line x1="311.50" y1="441.25" x2="315.40" y2="441.25" stroke="#222" stroke-width="0.9"/>
<text x="307.50" y="445.75" font-size="12.4" text-anchor="end" font-family='"Liberation Sans", Arial, Helvetica, sans-serif' fill="#000">0.5</text>
<line x1="311.50" y1="401.20" x2="315.40" y2="401.20" stroke="#222" stroke-width="0.9"/>
<text x="307.50" y="405.70" font-size="12.4" text-anchor="end" font-family='"Liberation Sans", Arial, Helvetica, sans-serif' fill="#000">1.0</text>
<line x1="315.40" y1="481.30" x2="315.40" y2="484.90" stroke="#222" stroke-width="0.9"/>
<text x="315.40" y="497.50" font-size="12.7" text-anchor="middle" font-family='"Liberation Sans", Arial, Helvetica, sans-serif' fill="#000">0</text>
<line x1="361.12" y1="481.30" x2="361.12" y2="484.90" stroke="#222" stroke-width="0.9"/>
<text x="361.12" y="497.50" font-size="12.7" text-anchor="middle" font-family='"Liberation Sans", Arial, Helvetica, sans-serif' fill="#000">100</text>
<line x1="406.84" y1="481.30" x2="406.84" y2="484.90" stroke="#222" stroke-width="0.9"/>
<text x="406.84" y="497.50" font-size="12.7" text-anchor="middle" font-family='"Liberation Sans", Arial, Helvetica, sans-serif' fill="#000">200</text>
<text x="376.00" y="511.40" font-size="12.3" text-anchor="middle" font-family='"Liberation Sans", Arial, Helvetica, sans-serif' fill="#000">wl (unit)</text>
<text x="283.50" y="438.00" font-size="12.5" text-anchor="middle" font-family='"Liberation Sans", Arial, Helvetica, sans-serif' fill="#000" transform="rotate(-90 283.50 438.00)">intensity</text>
<rect x="438" y="397.2" width="70.6" height="76.8" rx="1.8" fill="#fff" stroke="#ccc" stroke-width="0.9"/>
<line x1="440.90" y1="404.70" x2="459.60" y2="404.70" stroke="#ff0000" stroke-width="2"/>
<text x="465.10" y="407.70" font-size="8.4" text-anchor="start" font-family='"DejaVu Sans", "Liberation Sans", sans-serif' fill="#000">predic. A</text>
<line x1="441.30" y1="416.97" x2="458.60" y2="416.97" stroke="#ff0000" stroke-width="2" stroke-dasharray="4.6 1.85"/>
<text x="465.10" y="419.97" font-size="8.4" text-anchor="start" font-family='"DejaVu Sans", "Liberation Sans", sans-serif' fill="#000">expect. A</text>
<line x1="440.90" y1="429.24" x2="459.60" y2="429.24" stroke="#800080" stroke-width="2"/>
<text x="465.10" y="432.24" font-size="8.4" text-anchor="start" font-family='"DejaVu Sans", "Liberation Sans", sans-serif' fill="#000">predic. B</text>
<line x1="441.30" y1="441.51" x2="458.60" y2="441.51" stroke="#800080" stroke-width="2" stroke-dasharray="4.6 1.85"/>
<text x="465.10" y="444.51" font-size="8.4" text-anchor="start" font-family='"DejaVu Sans", "Liberation Sans", sans-serif' fill="#000">expect. B</text>
<line x1="440.90" y1="453.78" x2="459.60" y2="453.78" stroke="#008000" stroke-width="2"/>
<text x="465.10" y="456.78" font-size="8.4" text-anchor="start" font-family='"DejaVu Sans", "Liberation Sans", sans-serif' fill="#000">predic. C</text>
<line x1="441.30" y1="466.05" x2="458.60" y2="466.05" stroke="#008000" stroke-width="2" stroke-dasharray="4.6 1.85"/>
<text x="465.10" y="469.05" font-size="8.4" text-anchor="start" font-family='"DejaVu Sans", "Liberation Sans", sans-serif' fill="#000">expect. C</text>
<path d="M268,521.5 H447" stroke="#e4e6ea" stroke-width="1" fill="none"/>
<text x="36.40" y="538.40" font-size="13.8" text-anchor="start" font-family='"Liberation Sans", Arial, Helvetica, sans-serif' fill="#000">h)</text>
<text x="155.80" y="536.80" font-size="11.6" text-anchor="middle" font-weight="bold" font-family='"Liberation Sans", Arial, Helvetica, sans-serif' fill="#000">Model prediction</text>
<text x="280.00" y="536.80" font-size="11.5" text-anchor="middle" font-weight="bold" font-family='"Liberation Sans", Arial, Helvetica, sans-serif' fill="#000">tau prediction</text>
<text x="405.50" y="536.70" font-size="11.6" text-anchor="middle" font-weight="bold" font-family='"Liberation Sans", Arial, Helvetica, sans-serif' fill="#000">Amplitude prediction</text>
<rect x="115.5" y="565.0" width="35.80" height="88.40" fill="#deebf7" stroke="#000" stroke-width="2.6"/>
<text x="137.30" y="607.60" font-size="10.9" text-anchor="middle" font-family='"Liberation Sans", Arial, Helvetica, sans-serif' fill="#000" transform="rotate(-90 137.30 607.60)">82.0 %</text>
<rect x="163.8" y="547.1" width="35.60" height="106.30" fill="#deebf7" stroke="#000" stroke-width="2.6"/>
<text x="185.50" y="607.60" font-size="10.9" text-anchor="middle" font-family='"Liberation Sans", Arial, Helvetica, sans-serif' fill="#000" transform="rotate(-90 185.50 607.60)">98.0 %</text>
<rect x="235.0" y="565.0" width="35.40" height="88.40" fill="#fbe5d6" stroke="#000" stroke-width="2.6"/>
<text x="256.60" y="607.60" font-size="10.9" text-anchor="middle" font-family='"Liberation Sans", Arial, Helvetica, sans-serif' fill="#000" transform="rotate(-90 256.60 607.60)">81.3 %</text>
<rect x="283.2" y="550.4" width="34.60" height="103.00" fill="#fbe5d6" stroke="#000" stroke-width="2.6"/>
<text x="304.40" y="607.60" font-size="10.9" text-anchor="middle" font-family='"Liberation Sans", Arial, Helvetica, sans-serif' fill="#000" transform="rotate(-90 304.40 607.60)">95.2 %</text>
<rect x="376.3" y="560.2" width="34.70" height="93.20" fill="#e2f0d9" stroke="#000" stroke-width="2.6"/>
<text x="397.55" y="607.60" font-size="10.9" text-anchor="middle" font-family='"Liberation Sans", Arial, Helvetica, sans-serif' fill="#000" transform="rotate(-90 397.55 607.60)">84.8 %</text>
<path d="M83.2,542.8 H90.4 M83.2,597.8 H90.4 M90.4,541.5 V653.4 M83.2,653.4 H456" fill="none" stroke="#000" stroke-width="2.7"/>
<text x="74.20" y="547.50" font-size="11.0" text-anchor="end" font-family='"Liberation Sans", Arial, Helvetica, sans-serif' fill="#000">1.0</text>
<text x="74.20" y="601.70" font-size="11.0" text-anchor="end" font-family='"Liberation Sans", Arial, Helvetica, sans-serif' fill="#000">0.5</text>
<text x="74.20" y="657.00" font-size="10.9" text-anchor="end" font-family='"Liberation Sans", Arial, Helvetica, sans-serif' fill="#000">0</text>
<text x="34.20" y="598.00" font-size="12.6" text-anchor="middle" font-family='"Liberation Sans", Arial, Helvetica, sans-serif' fill="#000" transform="rotate(-90 34.20 598.00)">Accuracy</text>
<text x="49.90" y="598.00" font-size="12.6" text-anchor="middle" font-family='"Liberation Sans", Arial, Helvetica, sans-serif' fill="#000" transform="rotate(-90 49.90 598.00)">values</text>
<text x="134.20" y="678.90" font-size="12.0" text-anchor="middle" font-family='"Liberation Sans", Arial, Helvetica, sans-serif' fill="#000">Top 1</text>
<text x="183.50" y="678.90" font-size="12.0" text-anchor="middle" font-family='"Liberation Sans", Arial, Helvetica, sans-serif' fill="#000">Top 3</text>
<text x="252.60" y="670.80" font-size="10.6" text-anchor="middle" font-family='"Liberation Sans", Arial, Helvetica, sans-serif' fill="#000">A<tspan font-size="7.2">m</tspan></text>
<text x="252.60" y="684.40" font-size="11.2" text-anchor="middle" font-family='"Liberation Sans", Arial, Helvetica, sans-serif' fill="#000">&gt; 0.9</text>
<text x="302.30" y="670.80" font-size="10.6" text-anchor="middle" font-family='"Liberation Sans", Arial, Helvetica, sans-serif' fill="#000">A<tspan font-size="7.2">m</tspan></text>
<text x="302.30" y="684.40" font-size="11.2" text-anchor="middle" font-family='"Liberation Sans", Arial, Helvetica, sans-serif' fill="#000">&gt; 0.8</text>
<text x="394.40" y="669.00" font-size="10.6" text-anchor="middle" font-family='"Liberation Sans", Arial, Helvetica, sans-serif' fill="#000">A<tspan font-size="7.2">m</tspan></text>
<text x="394.40" y="682.00" font-size="11.2" text-anchor="middle" font-family='"Liberation Sans", Arial, Helvetica, sans-serif' fill="#000">&gt; 0.8</text>
</svg>
</body></html>
